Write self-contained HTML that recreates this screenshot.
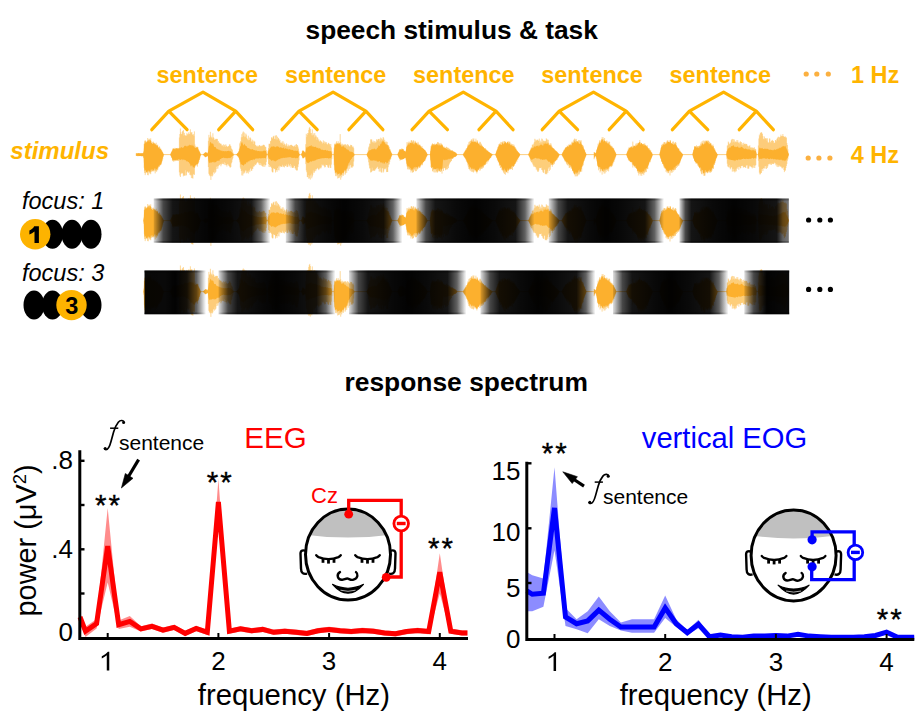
<!DOCTYPE html><html><head><meta charset="utf-8"><style>html,body{margin:0;padding:0;background:#fff;width:922px;height:728px;overflow:hidden}svg{display:block}text{font-family:"Liberation Sans",sans-serif}</style></head><body>
<svg width="922" height="728" viewBox="0 0 922 728">
<defs><g id="wave"><path d="M137 0H789" stroke="#FCB02E" stroke-width="1" opacity="0.6"/><path d="M136.20 -1.3V1.2M136.70 -1.4V1.3M137.20 -1.1V1.4M137.70 -1.3V1.6M138.20 -1.4V1.6M138.70 -1.6V1.2M139.20 -1.2V1.3M139.70 -1.2V1.5M140.20 -1.4V1.3M140.70 -1.4V1.5M141.20 -1.3V1.4M141.70 -1.2V1.6M142.20 -1.5V1.5M142.70 -1.3V1.7M143.20 -1.1V1.7M143.70 -3.2V3.4M144.20 -10.7V13.2M144.70 -13.5V18.4M145.20 -14.5V20.5M145.70 -13.5V18.7M146.20 -12.7V15.6M146.70 -12.7V16.4M147.20 -12.7V17.8M147.70 -16.6V20.4M148.20 -14.5V20.7M148.70 -13.8V16.8M149.20 -15.9V17.0M149.70 -14.4V18.7M150.20 -14.8V18.8M150.70 -16.3V19.6M151.20 -13.5V17.2M151.70 -11.7V15.1M152.20 -12.6V14.8M152.70 -11.3V16.5M153.20 -13.1V15.1M153.70 -11.8V14.8M154.20 -11.8V16.6M154.70 -11.0V15.2M155.20 -9.5V18.8M155.70 -11.1V13.6M156.20 -11.9V17.0M156.70 -9.0V16.9M157.20 -9.0V13.5M157.70 -10.0V15.6M158.20 -7.6V13.6M158.70 -6.6V11.9M159.20 -8.4V11.9M159.70 -7.7V10.9M160.20 -5.5V9.7M160.70 -6.2V10.0M161.20 -4.3V9.9M161.70 -4.4V7.7M162.20 -2.9V6.5M162.70 -2.1V4.7M163.20 -1.0V2.0M163.70 -0.2V0.4M170.40 -0.0V0.0M170.90 -1.5V1.3M171.40 -2.5V2.8M171.90 -3.5V3.5M172.40 -4.6V4.9M172.90 -6.0V6.2M173.40 -6.1V7.1M173.90 -6.3V5.2M174.40 -5.3V6.7M174.90 -6.8V6.1M175.40 -6.4V6.5M175.90 -5.8V5.4M176.40 -6.4V6.3M176.90 -6.5V5.7M177.40 -6.2V5.7M177.90 -6.7V6.3M178.40 -6.4V6.3M178.90 -5.5V5.3M179.40 -17.1V17.7M179.90 -20.6V20.9M180.40 -26.1V22.4M180.90 -22.3V19.2M181.40 -20.4V18.8M181.90 -20.5V17.9M182.40 -23.1V18.6M182.90 -23.5V18.9M183.40 -24.6V21.7M183.90 -18.9V20.4M184.40 -21.7V21.1M184.90 -19.5V21.0M185.40 -19.0V15.6M185.90 -18.8V20.9M186.40 -18.9V20.6M186.90 -21.7V17.7M187.40 -20.5V16.6M187.90 -19.4V17.1M188.40 -21.0V18.2M188.90 -22.5V17.7M189.40 -20.8V16.8M189.90 -20.4V20.2M190.40 -25.3V20.1M190.90 -22.2V20.9M191.40 -21.9V23.5M191.90 -22.5V20.3M192.40 -20.0V23.4M192.90 -19.8V24.1M193.40 -20.4V19.3M193.90 -18.6V20.1M194.40 -23.2V20.2M194.90 -10.1V12.7M195.40 -8.3V11.6M195.90 -6.7V10.5M196.40 -6.6V9.4M196.90 -7.8V11.1M197.40 -7.8V12.1M197.90 -7.6V8.6M198.40 -4.6V9.0M198.90 -4.7V7.2M199.40 -3.3V5.4M199.90 -2.2V3.7M200.40 -1.0V1.4M200.90 -0.0V0.0M202.90 -0.0V0.0M203.40 -0.5V0.6M203.90 -0.9V0.9M204.40 -1.2V1.4M204.90 -1.9V2.4M205.40 -2.2V2.7M205.90 -2.6V2.5M206.40 -2.2V2.1M206.90 -1.3V1.6M207.40 -1.2V1.1M207.90 -2.6V2.1M208.40 -13.8V12.4M208.90 -19.7V19.2M209.40 -16.9V21.0M209.90 -17.3V20.1M210.40 -22.8V21.7M210.90 -19.0V25.3M211.40 -17.0V21.5M211.90 -17.4V19.7M212.40 -16.0V21.8M212.90 -21.3V20.7M213.40 -17.3V17.9M213.90 -16.7V17.4M214.40 -14.7V19.0M214.90 -15.0V15.1M215.40 -15.1V18.0M215.90 -15.8V17.0M216.40 -15.7V12.1M216.90 -15.3V14.4M217.40 -15.7V11.6M217.90 -12.4V13.9M218.40 -13.6V11.6M218.90 -11.1V10.7M219.40 -12.0V10.5M219.90 -11.4V9.8M220.40 -10.6V9.3M220.90 -11.0V11.7M221.40 -10.1V10.0M221.90 -8.5V8.8M222.40 -9.5V9.4M222.90 -8.4V7.9M223.40 -10.3V9.6M223.90 -7.5V9.5M224.40 -9.2V7.6M224.90 -9.9V10.5M225.40 -7.7V8.5M225.90 -10.2V10.6M226.40 -8.8V10.3M226.90 -8.1V11.9M227.40 -7.8V9.8M227.90 -7.8V9.3M228.40 -8.6V10.1M228.90 -8.3V11.3M229.40 -10.0V11.6M229.90 -10.3V12.7M230.40 -8.9V12.9M230.90 -8.3V12.3M231.40 -6.1V8.7M231.90 -5.6V7.6M232.40 -4.4V4.9M232.90 -2.2V3.6M233.40 -1.1V1.3M236.30 -0.0V0.0M236.80 -0.5V0.7M237.30 -1.0V1.1M237.80 -1.8V2.0M238.30 -2.0V2.6M238.80 -3.5V3.1M239.30 -5.8V5.0M239.80 -11.2V7.7M240.30 -12.3V12.9M240.80 -13.6V14.3M241.30 -17.3V16.4M241.80 -20.4V20.8M242.30 -17.5V15.9M242.80 -22.0V20.9M243.30 -23.1V19.0M243.80 -18.5V16.7M244.30 -22.1V18.7M244.80 -17.4V17.6M245.30 -18.0V16.1M245.80 -21.1V15.5M246.30 -20.0V18.7M246.80 -16.7V16.2M247.30 -15.7V18.2M247.80 -14.5V16.9M248.30 -18.9V19.0M248.80 -14.3V16.2M249.30 -14.7V15.6M249.80 -17.0V17.5M250.30 -17.0V14.2M250.80 -16.0V13.3M251.30 -12.7V16.1M251.80 -13.4V16.1M252.30 -14.9V14.1M252.80 -12.9V14.3M253.30 -10.6V11.6M253.80 -14.0V12.3M254.30 -13.1V11.4M254.80 -12.9V9.6M255.30 -9.7V10.2M255.80 -9.4V10.5M256.30 -8.2V9.2M256.80 -8.8V8.4M257.30 -7.6V7.7M257.80 -8.9V7.3M258.30 -8.3V8.0M258.80 -8.0V9.0M259.30 -9.6V10.5M259.80 -9.2V8.3M260.30 -8.3V10.4M260.80 -8.4V8.5M261.30 -9.0V11.1M261.80 -8.2V9.9M262.30 -8.6V11.5M262.80 -9.4V11.9M263.30 -9.8V12.1M263.80 -9.8V10.2M264.30 -9.5V9.6M264.80 -8.3V12.3M265.30 -7.7V10.8M265.80 -7.5V10.4M266.30 -4.5V7.3M266.80 -0.0V0.0M267.50 -0.0V0.0M268.00 -3.8V4.7M268.50 -6.5V9.4M269.00 -10.8V12.3M269.50 -10.8V10.4M270.00 -10.3V12.5M270.50 -13.5V11.7M271.00 -14.0V12.2M271.50 -17.3V13.2M272.00 -16.7V16.9M272.50 -15.9V17.7M273.00 -17.9V17.7M273.50 -18.2V13.8M274.00 -18.9V13.8M274.50 -15.8V14.5M275.00 -15.2V14.2M275.50 -19.1V17.9M276.00 -15.3V15.6M276.50 -19.3V15.5M277.00 -14.5V17.3M277.50 -17.9V13.4M278.00 -15.1V15.5M278.50 -16.7V11.8M279.00 -15.7V15.8M279.50 -13.7V11.1M280.00 -14.7V12.7M280.50 -12.1V11.5M281.00 -11.1V11.7M281.50 -11.7V12.4M282.00 -13.0V11.6M282.50 -11.1V10.2M283.00 -13.4V12.5M283.50 -9.7V12.0M284.00 -11.9V11.1M284.50 -10.2V12.8M285.00 -10.6V10.3M285.50 -8.9V11.4M286.00 -9.4V11.6M286.50 -11.2V9.9M287.00 -8.4V12.5M287.50 -8.1V12.3M288.00 -10.2V10.8M288.50 -8.3V9.2M289.00 -9.5V12.1M289.50 -8.8V10.6M290.00 -7.9V11.5M290.50 -9.7V9.4M291.00 -9.4V13.1M291.50 -9.8V10.9M292.00 -9.1V12.6M292.50 -8.7V13.4M293.00 -8.7V13.2M293.50 -8.0V13.0M294.00 -7.9V10.7M294.50 -8.5V11.4M295.00 -9.6V13.7M295.50 -7.7V13.8M296.00 -10.1V15.4M296.50 -10.4V15.9M297.00 -8.0V11.9M297.50 -9.6V15.8M298.00 -8.0V12.5M298.50 -6.0V9.7M299.00 -3.2V5.8M299.50 -0.7V0.9M301.30 -0.0V0.0M301.80 -1.4V1.4M302.30 -3.4V2.2M302.80 -3.8V3.4M303.30 -3.6V3.7M303.80 -3.4V3.2M304.30 -2.9V3.2M304.80 -2.7V2.3M305.30 -1.7V2.1M305.80 -10.4V9.5M306.30 -20.8V15.8M306.80 -17.5V17.6M307.30 -19.6V22.5M307.80 -21.6V22.5M308.30 -21.3V20.3M308.80 -24.7V24.1M309.30 -26.7V23.7M309.80 -27.7V21.0M310.30 -25.6V25.0M310.80 -21.4V20.5M311.30 -21.5V19.0M311.80 -19.3V23.7M312.30 -25.2V21.9M312.80 -19.0V20.2M313.30 -19.8V15.8M313.80 -21.3V18.1M314.30 -17.1V18.0M314.80 -21.5V16.4M315.30 -17.9V14.7M315.80 -19.4V16.6M316.30 -18.1V14.8M316.80 -14.7V14.3M317.30 -17.3V13.2M317.80 -16.9V13.6M318.30 -14.2V14.4M318.80 -15.4V15.5M319.30 -13.4V14.3M319.80 -12.8V13.1M320.30 -14.4V13.0M320.80 -13.6V13.9M321.30 -13.1V12.8M321.80 -12.6V9.7M322.30 -10.8V10.8M322.80 -11.9V10.0M323.30 -14.2V11.0M323.80 -11.7V9.9M324.30 -13.2V11.6M324.80 -10.7V12.9M325.30 -12.8V12.4M325.80 -11.5V9.9M326.30 -12.5V10.5M326.80 -10.7V10.3M327.30 -10.0V10.6M327.80 -10.3V12.2M328.30 -11.8V13.2M328.80 -11.5V13.0M329.30 -10.4V10.0M329.80 -10.3V11.0M330.30 -8.7V13.2M330.80 -10.6V13.4M331.30 -7.2V10.0M331.80 -3.4V4.5M333.70 -0.0V0.0M334.20 -6.9V10.5M334.70 -10.8V15.6M335.20 -11.0V18.7M335.70 -9.4V21.3M336.20 -12.1V21.7M336.70 -13.4V17.1M337.20 -10.0V21.0M337.70 -11.2V23.9M338.20 -13.4V17.6M338.70 -11.2V23.5M339.20 -11.9V23.2M339.70 -11.4V21.9M340.20 -20.5V21.1M340.70 -12.3V25.1M341.20 -9.3V20.0M341.70 -10.2V22.8M342.20 -10.9V20.7M342.70 -8.0V17.9M343.20 -10.0V21.4M343.70 -9.8V19.9M344.20 -9.9V16.9M344.70 -10.1V15.8M345.20 -10.1V20.1M345.70 -10.3V18.7M346.20 -8.7V16.1M346.70 -9.7V18.2M347.20 -7.8V13.4M347.70 -10.6V14.5M348.20 -9.6V16.2M348.70 -9.0V11.7M349.20 -8.2V10.9M349.70 -8.1V14.3M350.20 -8.1V10.1M350.70 -9.8V10.7M351.20 -9.6V13.1M351.70 -9.3V12.3M352.20 -8.1V13.1M352.70 -7.3V11.7M353.20 -8.1V11.8M353.70 -6.4V6.9M354.20 -1.0V1.4M366.70 -0.0V0.0M367.20 -1.1V1.2M367.70 -2.3V2.1M368.20 -4.3V4.8M368.70 -7.2V7.7M369.20 -8.3V10.8M369.70 -11.0V13.8M370.20 -10.7V13.7M370.70 -15.2V17.9M371.20 -15.1V17.5M371.70 -15.2V17.0M372.20 -12.8V13.1M372.70 -12.1V16.3M373.20 -13.9V15.8M373.70 -12.2V15.9M374.20 -11.4V16.0M374.70 -13.5V16.2M375.20 -13.0V14.6M375.70 -11.6V14.9M376.20 -12.5V13.8M376.70 -15.4V13.3M377.20 -14.7V12.5M377.70 -13.7V12.0M378.20 -15.6V14.4M378.70 -15.4V14.2M379.20 -15.8V17.0M379.70 -13.1V13.3M380.20 -15.0V16.9M380.70 -17.0V13.0M381.20 -13.3V17.8M381.70 -16.2V17.9M382.20 -15.4V13.9M382.70 -14.4V13.5M383.20 -17.6V18.0M383.70 -16.4V16.9M384.20 -12.3V13.9M384.70 -14.8V14.6M385.20 -11.7V14.7M385.70 -12.8V13.8M386.20 -13.1V12.9M386.70 -10.0V17.5M387.20 -12.7V17.3M387.70 -9.3V17.4M388.20 -9.4V12.6M388.70 -8.7V10.1M389.20 -7.6V9.7M389.70 -5.4V7.4M390.20 -5.2V5.4M390.70 -3.2V4.4M391.20 -1.9V2.5M391.70 -1.1V1.0M392.20 -0.0V0.0M397.50 -0.0V0.0M398.00 -1.3V1.1M398.50 -2.6V2.2M399.00 -3.9V3.5M399.50 -5.3V4.2M400.00 -5.0V6.1M400.50 -4.7V4.7M401.00 -5.0V4.8M401.50 -6.0V5.4M402.00 -5.8V5.0M402.50 -5.8V4.7M403.00 -5.2V4.1M403.50 -5.5V4.2M404.00 -4.2V3.7M404.50 -3.3V3.8M405.00 -3.0V3.5M405.50 -2.7V3.1M406.00 -3.9V5.7M406.50 -7.7V9.1M407.00 -12.5V11.8M407.50 -10.1V14.7M408.00 -12.0V12.2M408.50 -11.8V14.1M409.00 -13.2V15.3M409.50 -12.0V14.6M410.00 -11.9V13.1M410.50 -11.0V15.6M411.00 -14.1V17.9M411.50 -14.4V16.1M412.00 -14.0V14.9M412.50 -12.4V18.1M413.00 -13.8V17.3M413.50 -14.3V17.6M414.00 -12.8V14.5M414.50 -11.8V15.1M415.00 -13.8V16.3M415.50 -13.0V16.7M416.00 -12.2V13.5M416.50 -11.7V16.5M417.00 -11.4V14.0M417.50 -10.5V14.9M418.00 -12.7V14.1M418.50 -11.0V12.3M419.00 -10.0V13.2M419.50 -8.8V13.2M420.00 -9.9V13.0M420.50 -9.0V11.9M421.00 -8.1V10.1M421.50 -7.8V10.7M422.00 -8.5V8.9M422.50 -6.6V10.6M423.00 -5.8V7.3M423.50 -5.2V7.6M424.00 -4.9V6.5M424.50 -4.5V6.2M425.00 -4.5V6.3M425.50 -3.8V4.9M426.00 -2.9V3.7M426.50 -2.1V2.0M427.00 -1.0V1.5M427.50 -0.2V0.2M430.00 -0.0V0.0M430.50 -3.7V5.7M431.00 -8.4V12.4M431.50 -9.0V13.6M432.00 -10.3V12.7M432.50 -11.3V16.5M433.00 -9.9V17.0M433.50 -10.5V15.1M434.00 -10.5V17.8M434.50 -11.0V14.8M435.00 -9.9V17.8M435.50 -9.1V15.0M436.00 -10.8V17.8M436.50 -10.4V16.6M437.00 -10.8V17.7M437.50 -12.5V17.9M438.00 -12.2V17.3M438.50 -12.1V15.9M439.00 -10.7V16.3M439.50 -11.1V16.8M440.00 -11.1V13.8M440.50 -9.9V17.3M441.00 -11.7V16.8M441.50 -10.4V16.6M442.00 -10.5V19.0M442.50 -8.5V14.2M443.00 -6.7V13.4M443.50 -7.9V16.4M444.00 -8.2V13.7M444.50 -6.6V13.2M445.00 -7.4V13.4M445.50 -6.1V15.6M446.00 -6.8V14.1M446.50 -7.8V14.9M447.00 -7.4V12.2M447.50 -6.6V14.7M448.00 -6.9V11.4M448.50 -6.3V13.5M449.00 -5.8V10.2M449.50 -5.8V9.0M450.00 -5.2V7.9M450.50 -4.8V7.5M451.00 -4.3V6.1M451.50 -3.9V6.5M452.00 -4.5V4.4M452.50 -4.1V3.6M453.00 -3.3V4.0M453.50 -3.2V2.9M454.00 -3.1V2.7M454.50 -2.5V2.4M455.00 -2.6V2.1M455.50 -1.9V2.3M456.00 -1.8V1.7M456.50 -0.9V1.2M457.00 -0.3V0.3M462.90 -0.0V0.0M463.40 -0.7V0.9M463.90 -1.9V1.8M464.40 -2.2V2.3M464.90 -3.5V3.2M465.40 -4.5V3.8M465.90 -5.3V4.6M466.40 -6.5V6.9M466.90 -6.3V7.0M467.40 -6.8V8.6M467.90 -10.1V10.8M468.40 -9.9V12.6M468.90 -12.4V14.4M469.40 -13.1V14.5M469.90 -10.6V15.7M470.40 -13.6V12.6M470.90 -14.0V16.6M471.40 -15.3V14.9M471.90 -14.8V17.3M472.40 -12.0V17.0M472.90 -16.1V14.1M473.40 -15.0V17.9M473.90 -16.2V17.2M474.40 -11.9V15.8M474.90 -13.1V14.7M475.40 -12.7V15.4M475.90 -15.9V16.2M476.40 -12.2V17.5M476.90 -14.0V18.8M477.40 -14.1V17.1M477.90 -11.5V15.7M478.40 -10.8V15.3M478.90 -11.9V14.0M479.40 -11.1V13.8M479.90 -12.9V16.4M480.40 -12.3V15.0M480.90 -9.9V12.7M481.40 -10.9V14.4M481.90 -9.5V12.2M482.40 -7.2V14.0M482.90 -7.2V13.0M483.40 -6.7V13.0M483.90 -6.7V10.1M484.40 -6.4V10.9M484.90 -5.7V8.6M485.40 -6.4V10.3M485.90 -5.3V9.0M486.40 -5.0V7.3M486.90 -4.3V9.1M487.40 -3.9V6.5M487.90 -3.9V7.5M488.40 -2.8V6.5M488.90 -2.5V5.5M489.40 -2.6V4.3M489.90 -1.9V3.9M490.40 -1.5V3.3M490.90 -1.3V3.0M491.40 -0.9V1.5M491.90 -0.5V1.1M492.40 -0.1V0.3M495.40 -0.0V0.0M495.90 -1.3V1.4M496.40 -2.9V2.6M496.90 -4.0V3.5M497.40 -5.3V5.8M497.90 -7.6V5.9M498.40 -8.3V8.0M498.90 -10.4V7.7M499.40 -10.1V11.2M499.90 -11.4V9.6M500.40 -9.3V13.3M500.90 -12.7V13.3M501.40 -12.3V11.9M501.90 -9.6V15.5M502.40 -12.5V15.1M502.90 -13.4V16.2M503.40 -10.8V17.5M503.90 -13.1V18.4M504.40 -13.5V19.4M504.90 -13.2V15.0M505.40 -11.3V20.1M505.90 -11.8V17.6M506.40 -11.5V15.1M506.90 -11.6V17.9M507.40 -12.2V15.2M507.90 -13.2V18.6M508.40 -11.6V14.5M508.90 -13.2V13.6M509.40 -12.4V15.1M509.90 -12.8V14.7M510.40 -9.6V14.0M510.90 -11.3V12.3M511.40 -10.6V14.4M511.90 -8.7V14.0M512.40 -10.1V15.4M512.90 -10.4V11.8M513.40 -8.4V12.2M513.90 -9.9V9.4M514.40 -8.8V11.3M514.90 -6.8V8.8M515.40 -7.4V9.2M515.90 -6.2V7.9M516.40 -5.2V6.8M516.90 -4.2V7.2M517.40 -3.4V4.9M517.90 -2.6V5.0M518.40 -2.5V3.3M518.90 -1.6V2.4M519.40 -1.2V1.5M519.90 -0.3V0.5M528.30 -0.0V0.0M528.80 -1.0V1.1M529.30 -2.1V1.9M529.80 -3.6V3.0M530.30 -4.6V5.0M530.80 -6.0V6.4M531.30 -7.3V7.5M531.80 -6.8V7.8M532.30 -9.8V8.0M532.80 -10.1V9.6M533.30 -9.0V10.7M533.80 -10.9V12.1M534.30 -12.4V11.0M534.80 -15.8V12.2M535.30 -13.0V12.6M535.80 -15.0V12.6M536.30 -13.9V15.1M536.80 -14.2V13.9M537.30 -14.7V16.0M537.80 -15.0V17.2M538.30 -13.9V17.0M538.80 -13.7V15.7M539.30 -16.0V13.6M539.80 -11.6V13.2M540.30 -14.0V13.5M540.80 -12.2V13.5M541.30 -12.2V12.8M541.80 -16.1V15.3M542.30 -15.4V15.3M542.80 -12.3V17.0M543.30 -13.8V17.9M543.80 -14.0V18.4M544.30 -13.2V15.0M544.80 -13.4V15.0M545.30 -13.8V19.6M545.80 -13.2V19.1M546.30 -16.3V19.1M546.80 -15.1V19.7M547.30 -15.0V16.6M547.80 -12.5V18.3M548.30 -14.8V14.0M548.80 -11.7V12.7M549.30 -10.0V16.4M549.80 -9.7V12.3M550.30 -10.0V15.1M550.80 -11.5V10.7M551.30 -9.9V10.2M551.80 -8.4V9.9M552.30 -7.5V12.2M552.80 -6.4V10.0M553.30 -5.9V10.3M553.80 -5.9V8.9M554.30 -5.1V9.5M554.80 -4.7V6.7M555.30 -3.9V6.9M555.80 -3.9V5.2M556.30 -3.6V5.6M556.80 -3.3V5.2M557.30 -2.4V4.8M557.80 -1.8V3.1M558.30 -1.4V2.9M558.80 -0.8V1.4M559.30 -0.4V0.6M561.70 -0.0V0.0M562.20 -0.9V1.1M562.70 -2.1V1.9M563.20 -2.6V3.0M563.70 -4.1V3.7M564.20 -5.0V4.5M564.70 -5.2V5.9M565.20 -6.6V7.1M565.70 -6.5V6.5M566.20 -7.6V8.0M566.70 -7.0V9.4M567.20 -9.1V10.3M567.70 -8.2V10.8M568.20 -7.8V9.4M568.70 -10.1V10.9M569.20 -9.2V13.3M569.70 -9.8V13.2M570.20 -10.8V12.0M570.70 -10.0V12.5M571.20 -9.7V14.1M571.70 -12.1V13.8M572.20 -13.1V13.8M572.70 -11.1V16.7M573.20 -12.3V15.5M573.70 -14.3V18.0M574.20 -15.3V19.5M574.70 -16.1V18.9M575.20 -13.4V21.8M575.70 -15.1V19.5M576.20 -15.7V21.7M576.70 -13.6V19.4M577.20 -13.5V21.8M577.70 -13.6V21.0M578.20 -13.0V15.8M578.70 -14.6V19.9M579.20 -11.4V19.8M579.70 -14.3V18.0M580.20 -14.0V17.2M580.70 -12.7V17.4M581.20 -14.3V14.4M581.70 -9.6V17.0M582.20 -9.6V11.9M582.70 -9.1V11.0M583.20 -8.8V10.6M583.70 -5.9V6.7M584.20 -5.3V6.2M584.70 -4.5V4.3M585.20 -2.5V3.1M585.70 -1.7V1.8M586.20 -0.5V0.6M594.10 -2.6V4.6M594.60 -1.8V3.1M595.10 -1.8V1.9M595.60 -1.3V1.3M596.10 -2.3V2.7M596.60 -4.7V4.6M597.10 -5.4V6.8M597.60 -8.1V11.1M598.10 -11.0V11.7M598.60 -9.5V15.7M599.10 -12.1V13.7M599.60 -14.1V14.1M600.10 -14.3V17.9M600.60 -13.0V16.6M601.10 -12.2V16.1M601.60 -15.5V14.6M602.10 -17.4V20.0M602.60 -14.4V16.5M603.10 -17.4V14.9M603.60 -15.5V17.2M604.10 -13.7V19.0M604.60 -16.6V14.0M605.10 -13.6V18.8M605.60 -13.3V15.9M606.10 -12.4V17.5M606.60 -13.9V13.7M607.10 -13.8V15.4M607.60 -11.4V16.2M608.10 -12.3V14.6M608.60 -11.0V16.8M609.10 -13.2V13.9M609.60 -12.6V11.7M610.10 -9.2V12.7M610.60 -10.0V11.7M611.10 -8.5V10.2M611.60 -8.8V12.5M612.10 -8.2V11.5M612.60 -6.9V10.7M613.10 -5.9V8.9M613.60 -6.7V6.8M614.10 -5.0V7.1M614.60 -3.5V5.2M615.10 -2.9V3.9M615.60 -1.9V2.2M616.10 -0.7V0.8M626.30 -0.0V0.0M626.80 -1.2V1.0M627.30 -2.5V2.7M627.80 -3.9V3.5M628.30 -5.7V4.9M628.80 -7.1V6.2M629.30 -6.2V5.4M629.80 -7.2V5.7M630.30 -7.8V7.6M630.80 -7.2V7.3M631.30 -8.1V7.3M631.80 -8.5V7.2M632.30 -6.9V9.7M632.80 -13.0V12.9M633.30 -8.6V10.6M633.80 -9.3V11.3M634.30 -8.5V9.9M634.80 -8.7V12.6M635.30 -8.0V13.0M635.80 -10.9V13.4M636.30 -9.7V13.2M636.80 -11.1V14.3M637.30 -11.7V15.9M637.80 -9.9V18.0M638.30 -10.5V16.4M638.80 -11.0V20.9M639.30 -12.0V19.3M639.80 -14.5V17.5M640.30 -12.3V16.1M640.80 -11.8V21.0M641.30 -10.1V19.1M641.80 -11.0V21.2M642.30 -9.6V19.1M642.80 -10.4V19.1M643.30 -10.8V19.0M643.80 -10.0V20.5M644.30 -10.8V17.8M644.80 -11.2V18.5M645.30 -9.1V15.0M645.80 -8.3V17.3M646.30 -8.7V17.5M646.80 -9.2V13.9M647.30 -9.1V14.4M647.80 -6.9V14.5M648.30 -6.1V10.1M648.80 -6.6V9.6M649.30 -6.1V7.9M649.80 -4.5V6.6M650.30 -4.8V7.6M650.80 -4.1V4.8M651.30 -2.4V3.7M651.80 -2.0V2.4M652.30 -0.8V1.3M659.50 -0.0V0.0M660.00 -2.3V1.8M660.50 -4.2V3.8M661.00 -6.9V4.6M661.50 -9.8V6.8M662.00 -8.8V7.2M662.50 -10.8V9.3M663.00 -9.0V9.2M663.50 -11.1V11.5M664.00 -12.6V12.8M664.50 -12.5V12.2M665.00 -11.9V13.9M665.50 -10.6V14.0M666.00 -12.4V17.2M666.50 -12.1V16.2M667.00 -13.9V18.0M667.50 -14.0V16.5M668.00 -14.2V18.7M668.50 -11.7V18.4M669.00 -12.5V15.1M669.50 -12.6V16.2M670.00 -14.5V20.9M670.50 -14.3V15.1M671.00 -11.0V18.0M671.50 -11.0V16.6M672.00 -10.7V18.3M672.50 -12.9V15.3M673.00 -11.0V17.3M673.50 -13.1V15.6M674.00 -9.8V15.0M674.50 -11.9V15.7M675.00 -11.2V14.6M675.50 -12.6V15.2M676.00 -11.8V11.4M676.50 -9.2V13.4M677.00 -8.0V10.7M677.50 -6.9V12.2M678.00 -6.2V11.4M678.50 -6.1V10.8M679.00 -6.0V10.8M679.50 -3.7V7.9M680.00 -4.0V8.1M680.50 -2.7V6.8M681.00 -2.1V4.6M681.50 -2.0V3.8M682.00 -1.1V2.8M682.50 -0.7V1.4M683.00 -0.0V0.0M692.50 -0.0V0.0M693.00 -2.2V1.9M693.50 -4.4V3.2M694.00 -5.4V4.2M694.50 -7.8V5.6M695.00 -8.4V6.3M695.50 -7.2V7.5M696.00 -8.3V9.0M696.50 -9.3V8.7M697.00 -7.1V8.7M697.50 -8.4V10.9M698.00 -8.5V9.2M698.50 -8.3V12.1M699.00 -8.7V12.0M699.50 -9.0V11.2M700.00 -8.4V13.6M700.50 -10.3V16.4M701.00 -12.1V17.8M701.50 -10.0V19.6M702.00 -13.2V19.0M702.50 -10.4V15.4M703.00 -13.9V19.8M703.50 -10.8V18.7M704.00 -14.1V21.4M704.50 -12.9V20.9M705.00 -13.3V21.0M705.50 -13.3V17.9M706.00 -14.4V16.3M706.50 -13.4V17.0M707.00 -13.4V17.0M707.50 -12.7V16.5M708.00 -14.4V16.2M708.50 -13.6V16.1M709.00 -13.2V14.8M709.50 -12.5V17.9M710.00 -11.0V17.5M710.50 -11.8V18.1M711.00 -11.4V13.5M711.50 -10.0V17.5M712.00 -9.6V16.1M712.50 -8.9V13.8M713.00 -10.1V14.3M713.50 -8.5V14.1M714.00 -6.1V10.3M714.50 -6.4V10.3M715.00 -5.1V8.5M715.50 -3.1V6.7M716.00 -2.5V4.6M716.50 -1.7V3.2M717.00 -0.9V2.0M717.50 -0.2V0.5M726.30 -0.0V0.0M726.80 -3.7V4.1M727.30 -9.0V9.1M727.80 -9.2V11.8M728.30 -13.0V12.1M728.80 -12.0V12.8M729.30 -10.2V10.5M729.80 -10.7V13.0M730.30 -11.7V14.7M730.80 -12.1V13.6M731.30 -14.3V12.5M731.80 -15.2V12.6M732.30 -15.7V17.0M732.80 -12.0V14.3M733.30 -15.5V16.9M733.80 -12.8V14.2M734.30 -15.1V16.5M734.80 -11.9V17.8M735.30 -13.3V16.9M735.80 -12.6V14.8M736.30 -12.3V16.7M736.80 -14.4V13.6M737.30 -12.5V14.1M737.80 -14.4V12.4M738.30 -11.5V12.1M738.80 -12.2V15.1M739.30 -12.1V12.4M739.80 -10.4V11.7M740.30 -13.4V13.7M740.80 -12.4V13.5M741.30 -12.6V11.3M741.80 -10.1V11.3M742.30 -9.3V11.5M742.80 -11.4V10.7M743.30 -9.4V13.1M743.80 -11.9V12.3M744.30 -10.6V12.4M744.80 -10.7V12.5M745.30 -10.1V12.9M745.80 -10.9V13.3M746.30 -10.6V11.0M746.80 -10.4V10.5M747.30 -8.8V10.7M747.80 -9.0V14.0M748.30 -7.2V14.0M748.80 -8.5V13.9M749.30 -8.6V10.9M749.80 -9.4V11.9M750.30 -7.4V11.7M750.80 -6.5V11.5M751.30 -6.3V12.4M751.80 -7.5V12.8M752.30 -6.3V13.7M752.80 -7.0V12.2M753.30 -6.2V10.5M753.80 -6.4V13.3M754.30 -7.4V10.9M754.80 -5.3V13.4M755.30 -5.7V10.9M755.80 -5.1V10.5M756.30 -2.1V3.9M757.90 -0.0V0.0M758.40 -9.1V6.1M758.90 -16.1V12.1M759.40 -20.0V18.0M759.90 -18.3V19.8M760.40 -21.9V19.6M760.90 -21.3V18.5M761.40 -22.5V18.3M761.90 -21.8V14.6M762.40 -20.7V14.3M762.90 -18.6V16.5M763.40 -15.4V13.5M763.90 -15.9V13.7M764.40 -18.1V13.9M764.90 -15.1V11.7M765.40 -16.2V11.4M765.90 -16.5V14.0M766.40 -16.0V14.3M766.90 -13.8V11.1M767.40 -16.3V13.3M767.90 -12.1V11.7M768.40 -12.2V9.4M768.90 -11.7V10.0M769.40 -16.1V9.0M769.90 -15.9V9.3M770.40 -12.7V10.0M770.90 -11.4V8.6M771.40 -13.7V10.4M771.90 -14.0V9.0M772.40 -14.7V9.4M772.90 -13.5V8.6M773.40 -13.7V9.5M773.90 -11.4V9.3M774.40 -11.9V7.8M774.90 -11.8V8.4M775.40 -14.5V8.8M775.90 -14.4V10.7M776.40 -13.3V9.6M776.90 -15.7V12.0M777.40 -16.3V10.1M777.90 -17.3V12.5M778.40 -17.9V10.8M778.90 -14.2V12.3M779.40 -17.2V10.8M779.90 -17.3V11.2M780.40 -18.0V12.2M780.90 -20.0V11.4M781.40 -18.6V12.3M781.90 -18.0V13.6M782.40 -18.7V13.8M782.90 -20.6V12.6M783.40 -18.6V12.7M783.90 -17.8V15.4M784.40 -17.6V17.5M784.90 -18.0V16.0M785.40 -18.0V15.9M785.90 -16.6V13.4M786.40 -17.2V11.3M786.90 -11.6V9.3M787.40 -9.6V6.1M787.90 -5.3V4.7M788.40 -1.5V1.3" stroke="#FCB02E" stroke-width="0.6" opacity="0.8"/><path d="M136.20 -1.3L136.70 -1.1L137.20 -1.1L137.70 -1.1L138.20 -1.3L138.70 -1.3L139.20 -1.2L139.70 -1.3L140.20 -1.1L140.70 -1.2L141.20 -1.3L141.70 -1.2L142.20 -1.4L142.70 -1.1L143.20 -1.3L143.70 -2.8L144.20 -10.4L144.70 -11.1L145.20 -13.7L145.70 -11.3L146.20 -11.6L146.70 -12.9L147.20 -13.7L147.70 -12.9L148.20 -15.5L148.70 -13.2L149.20 -12.4L149.70 -15.4L150.20 -14.1L150.70 -14.4L151.20 -11.6L151.70 -11.6L152.20 -10.7L152.70 -10.5L153.20 -10.9L153.70 -12.3L154.20 -9.8L154.70 -11.5L155.20 -10.4L155.70 -10.1L156.20 -9.1L156.70 -9.3L157.20 -9.4L157.70 -8.9L158.20 -7.4L158.70 -6.7L159.20 -7.4L159.70 -5.7L160.20 -5.8L160.70 -5.3L161.20 -5.0L161.70 -3.4L162.20 -3.2L162.70 -2.1L163.20 -1.2L163.70 -0.2L163.70 0.4L163.20 2.2L162.70 3.4L162.20 5.3L161.70 7.6L161.20 9.2L160.70 9.9L160.20 10.8L159.70 9.8L159.20 12.5L158.70 12.3L158.20 10.9L157.70 13.7L157.20 15.2L156.70 15.2L156.20 14.1L155.70 16.6L155.20 13.6L154.70 13.8L154.20 13.8L153.70 17.4L153.20 15.0L152.70 17.3L152.20 14.5L151.70 14.7L151.20 16.8L150.70 17.6L150.20 14.7L149.70 17.5L149.20 16.6L148.70 16.8L148.20 15.3L147.70 16.3L147.20 18.1L146.70 18.0L146.20 17.4L145.70 16.0L145.20 15.2L144.70 16.8L144.20 13.7L143.70 3.4L143.20 1.5L142.70 1.4L142.20 1.3L141.70 1.6L141.20 1.5L140.70 1.4L140.20 1.3L139.70 1.3L139.20 1.4L138.70 1.2L138.20 1.3L137.70 1.2L137.20 1.1L136.70 1.3L136.20 1.1ZM170.40 -0.0L170.90 -1.2L171.40 -2.5L171.90 -3.2L172.40 -4.2L172.90 -5.9L173.40 -5.8L173.90 -5.7L174.40 -5.3L174.90 -5.5L175.40 -5.2L175.90 -6.2L176.40 -6.4L176.90 -5.8L177.40 -5.7L177.90 -6.4L178.40 -6.3L178.90 -5.1L179.40 -6.9L179.90 -6.8L180.40 -6.2L180.90 -7.7L181.40 -7.1L181.90 -7.7L182.40 -6.5L182.90 -6.8L183.40 -7.0L183.90 -7.5L184.40 -8.8L184.90 -8.5L185.40 -8.9L185.90 -8.9L186.40 -7.8L186.90 -8.9L187.40 -8.9L187.90 -7.9L188.40 -9.5L188.90 -8.7L189.40 -9.6L189.90 -10.1L190.40 -9.2L190.90 -9.7L191.40 -9.8L191.90 -8.3L192.40 -8.8L192.90 -10.2L193.40 -8.5L193.90 -8.1L194.40 -7.8L194.90 -6.6L195.40 -6.8L195.90 -6.6L196.40 -7.0L196.90 -7.8L197.40 -7.1L197.90 -6.3L198.40 -5.5L198.90 -3.6L199.40 -3.2L199.90 -2.1L200.40 -0.9L200.90 -0.0L200.90 0.0L200.40 1.4L199.90 3.1L199.40 4.8L198.90 6.0L198.40 7.7L197.90 9.2L197.40 9.4L196.90 10.4L196.40 9.5L195.90 10.1L195.40 10.6L194.90 11.5L194.40 13.3L193.90 13.5L193.40 12.1L192.90 12.9L192.40 11.1L191.90 10.5L191.40 11.5L190.90 11.9L190.40 10.9L189.90 8.6L189.40 9.2L188.90 7.5L188.40 7.6L187.90 7.0L187.40 6.6L186.90 7.2L186.40 6.5L185.90 6.0L185.40 5.4L184.90 5.7L184.40 5.1L183.90 4.8L183.40 5.0L182.90 5.9L182.40 5.0L181.90 4.5L181.40 4.9L180.90 5.4L180.40 5.5L179.90 4.5L179.40 5.5L178.90 4.6L178.40 4.6L177.90 4.8L177.40 5.7L176.90 5.5L176.40 5.2L175.90 5.4L175.40 5.5L174.90 5.5L174.40 5.5L173.90 5.2L173.40 5.7L172.90 6.4L172.40 5.1L171.90 3.5L171.40 2.1L170.90 1.3L170.40 0.0ZM202.90 -0.0L203.40 -0.4L203.90 -0.9L204.40 -1.3L204.90 -1.6L205.40 -2.2L205.90 -2.1L206.40 -1.9L206.90 -1.5L207.40 -1.0L207.90 -1.7L208.40 -4.9L208.90 -8.3L209.40 -8.8L209.90 -11.9L210.40 -12.9L210.90 -12.2L211.40 -11.5L211.90 -10.6L212.40 -11.4L212.90 -10.9L213.40 -10.5L213.90 -8.3L214.40 -7.7L214.90 -7.6L215.40 -7.7L215.90 -7.2L216.40 -6.2L216.90 -5.3L217.40 -5.4L217.90 -5.8L218.40 -5.1L218.90 -4.5L219.40 -5.1L219.90 -4.1L220.40 -4.0L220.90 -4.3L221.40 -3.7L221.90 -4.1L222.40 -3.8L222.90 -3.2L223.40 -3.5L223.90 -3.6L224.40 -3.2L224.90 -3.7L225.40 -3.4L225.90 -3.5L226.40 -3.0L226.90 -3.6L227.40 -3.6L227.90 -3.5L228.40 -3.6L228.90 -4.0L229.40 -3.4L229.90 -3.4L230.40 -3.6L230.90 -3.0L231.40 -2.8L231.90 -2.1L232.40 -1.7L232.90 -0.9L233.40 -0.4L233.40 0.4L232.90 1.1L232.40 1.4L231.90 2.0L231.40 2.5L230.90 2.8L230.40 3.4L229.90 3.2L229.40 3.4L228.90 3.7L228.40 3.1L227.90 3.6L227.40 3.6L226.90 3.3L226.40 3.6L225.90 3.6L225.40 3.5L224.90 3.1L224.40 3.6L223.90 3.2L223.40 2.8L222.90 3.3L222.40 3.4L221.90 3.5L221.40 4.0L220.90 4.4L220.40 4.5L219.90 4.6L219.40 6.1L218.90 6.3L218.40 5.8L217.90 5.9L217.40 6.3L216.90 6.1L216.40 7.1L215.90 7.3L215.40 7.9L214.90 6.9L214.40 8.4L213.90 6.8L213.40 7.9L212.90 7.4L212.40 7.2L211.90 8.7L211.40 7.7L210.90 7.2L210.40 8.7L209.90 7.6L209.40 8.6L208.90 8.1L208.40 5.9L207.90 1.5L207.40 1.1L206.90 1.7L206.40 1.8L205.90 2.5L205.40 2.4L204.90 1.8L204.40 1.3L203.90 0.9L203.40 0.5L202.90 0.0ZM236.30 -0.0L236.80 -0.5L237.30 -1.1L237.80 -1.7L238.30 -2.2L238.80 -3.0L239.30 -4.3L239.80 -6.9L240.30 -8.3L240.80 -8.9L241.30 -11.9L241.80 -12.3L242.30 -12.4L242.80 -10.4L243.30 -9.8L243.80 -8.8L244.30 -10.8L244.80 -10.4L245.30 -8.8L245.80 -9.2L246.30 -8.4L246.80 -8.4L247.30 -6.9L247.80 -6.7L248.30 -6.3L248.80 -6.6L249.30 -6.1L249.80 -5.9L250.30 -5.7L250.80 -5.1L251.30 -5.4L251.80 -5.2L252.30 -5.7L252.80 -5.3L253.30 -4.3L253.80 -5.2L254.30 -4.3L254.80 -4.5L255.30 -3.9L255.80 -4.3L256.30 -4.2L256.80 -4.2L257.30 -3.7L257.80 -3.4L258.30 -3.5L258.80 -3.5L259.30 -3.5L259.80 -3.2L260.30 -3.6L260.80 -3.2L261.30 -3.3L261.80 -3.3L262.30 -3.3L262.80 -3.4L263.30 -3.6L263.80 -4.0L264.30 -3.9L264.80 -4.0L265.30 -3.7L265.80 -3.9L266.30 -2.4L266.80 -0.0L266.80 0.0L266.30 2.0L265.80 4.0L265.30 3.6L264.80 3.4L264.30 3.4L263.80 3.8L263.30 3.2L262.80 3.3L262.30 3.7L261.80 3.5L261.30 3.8L260.80 3.7L260.30 4.0L259.80 4.0L259.30 3.4L258.80 3.6L258.30 4.1L257.80 3.8L257.30 3.8L256.80 4.0L256.30 3.8L255.80 4.0L255.30 4.1L254.80 4.8L254.30 5.1L253.80 4.8L253.30 4.7L252.80 5.9L252.30 4.9L251.80 5.3L251.30 5.5L250.80 5.6L250.30 5.9L249.80 5.7L249.30 6.8L248.80 6.8L248.30 6.4L247.80 8.4L247.30 7.0L246.80 7.3L246.30 8.1L245.80 9.4L245.30 9.2L244.80 10.6L244.30 8.7L243.80 10.8L243.30 11.1L242.80 10.2L242.30 10.5L241.80 10.2L241.30 9.4L240.80 10.1L240.30 7.5L239.80 5.7L239.30 4.4L238.80 2.9L238.30 1.8L237.80 1.5L237.30 1.1L236.80 0.5L236.30 0.0ZM267.50 -0.0L268.00 -2.0L268.50 -4.1L269.00 -5.2L269.50 -5.2L270.00 -6.3L270.50 -7.2L271.00 -7.3L271.50 -8.6L272.00 -7.3L272.50 -8.8L273.00 -7.1L273.50 -8.8L274.00 -8.0L274.50 -8.0L275.00 -7.3L275.50 -7.3L276.00 -8.1L276.50 -8.0L277.00 -8.0L277.50 -8.7L278.00 -7.5L278.50 -8.2L279.00 -7.7L279.50 -6.6L280.00 -7.4L280.50 -7.6L281.00 -6.6L281.50 -7.4L282.00 -6.5L282.50 -6.4L283.00 -6.8L283.50 -6.9L284.00 -7.4L284.50 -5.7L285.00 -5.6L285.50 -6.9L286.00 -6.0L286.50 -5.6L287.00 -6.2L287.50 -5.9L288.00 -5.1L288.50 -5.1L289.00 -5.4L289.50 -5.4L290.00 -5.5L290.50 -4.5L291.00 -5.0L291.50 -4.4L292.00 -4.8L292.50 -4.7L293.00 -4.5L293.50 -3.9L294.00 -3.9L294.50 -3.7L295.00 -4.3L295.50 -3.9L296.00 -3.5L296.50 -3.5L297.00 -4.1L297.50 -3.9L298.00 -3.9L298.50 -2.2L299.00 -1.3L299.50 -0.2L299.50 0.2L299.00 1.3L298.50 2.4L298.00 3.4L297.50 3.4L297.00 3.8L296.50 3.2L296.00 3.7L295.50 3.6L295.00 3.5L294.50 2.9L294.00 3.5L293.50 3.4L293.00 2.9L292.50 3.3L292.00 3.3L291.50 3.2L291.00 2.7L290.50 2.6L290.00 2.5L289.50 2.7L289.00 2.6L288.50 2.9L288.00 2.5L287.50 2.8L287.00 3.1L286.50 2.8L286.00 3.1L285.50 2.8L285.00 3.3L284.50 3.2L284.00 3.4L283.50 3.1L283.00 3.1L282.50 3.5L282.00 3.9L281.50 3.5L281.00 3.8L280.50 3.7L280.00 4.8L279.50 4.2L279.00 5.0L278.50 4.7L278.00 4.8L277.50 5.6L277.00 5.5L276.50 6.5L276.00 5.9L275.50 6.8L275.00 7.0L274.50 6.0L274.00 6.8L273.50 5.7L273.00 5.7L272.50 5.4L272.00 6.4L271.50 6.3L271.00 5.2L270.50 5.4L270.00 4.3L269.50 4.5L269.00 3.9L268.50 3.2L268.00 1.7L267.50 0.0ZM301.30 -0.0L301.80 -1.4L302.30 -3.0L302.80 -4.4L303.30 -4.0L303.80 -3.3L304.30 -2.7L304.80 -2.1L305.30 -1.8L305.80 -4.0L306.30 -7.1L306.80 -7.7L307.30 -6.9L307.80 -8.4L308.30 -7.6L308.80 -8.1L309.30 -8.4L309.80 -8.6L310.30 -8.4L310.80 -9.0L311.30 -9.9L311.80 -7.8L312.30 -8.9L312.80 -7.5L313.30 -7.9L313.80 -8.2L314.30 -7.6L314.80 -7.7L315.30 -7.8L315.80 -7.9L316.30 -6.7L316.80 -7.4L317.30 -6.6L317.80 -6.9L318.30 -6.9L318.80 -5.5L319.30 -6.7L319.80 -6.0L320.30 -6.2L320.80 -5.2L321.30 -4.9L321.80 -4.9L322.30 -5.0L322.80 -4.6L323.30 -4.5L323.80 -4.3L324.30 -4.7L324.80 -4.4L325.30 -4.5L325.80 -4.8L326.30 -4.2L326.80 -3.8L327.30 -4.0L327.80 -4.3L328.30 -3.6L328.80 -3.6L329.30 -3.4L329.80 -3.5L330.30 -3.6L330.80 -3.4L331.30 -2.9L331.80 -1.1L331.80 1.3L331.30 3.0L330.80 4.0L330.30 3.3L329.80 3.3L329.30 4.0L328.80 3.9L328.30 3.9L327.80 3.4L327.30 3.5L326.80 3.7L326.30 3.3L325.80 3.4L325.30 3.3L324.80 3.6L324.30 3.5L323.80 3.7L323.30 3.7L322.80 3.6L322.30 3.7L321.80 3.5L321.30 4.2L320.80 4.0L320.30 4.0L319.80 4.3L319.30 4.2L318.80 4.4L318.30 4.3L317.80 5.0L317.30 4.6L316.80 5.0L316.30 5.1L315.80 5.3L315.30 5.8L314.80 5.9L314.30 6.1L313.80 5.9L313.30 6.7L312.80 6.0L312.30 6.6L311.80 6.7L311.30 7.5L310.80 6.7L310.30 6.9L309.80 7.4L309.30 7.9L308.80 7.8L308.30 8.6L307.80 8.3L307.30 7.9L306.80 8.0L306.30 7.0L305.80 4.8L305.30 1.9L304.80 2.2L304.30 2.4L303.80 3.2L303.30 3.6L302.80 3.9L302.30 2.1L301.80 1.1L301.30 0.0ZM333.70 -0.0L334.20 -5.8L334.70 -9.9L335.20 -10.2L335.70 -10.2L336.20 -10.1L336.70 -11.0L337.20 -11.3L337.70 -10.9L338.20 -11.4L338.70 -10.4L339.20 -10.0L339.70 -11.6L340.20 -10.3L340.70 -9.6L341.20 -8.5L341.70 -7.7L342.20 -7.5L342.70 -9.1L343.20 -8.8L343.70 -8.1L344.20 -7.8L344.70 -6.6L345.20 -7.1L345.70 -6.6L346.20 -5.8L346.70 -5.1L347.20 -5.8L347.70 -4.4L348.20 -5.1L348.70 -4.4L349.20 -3.4L349.70 -3.1L350.20 -3.4L350.70 -2.7L351.20 -3.0L351.70 -2.6L352.20 -2.5L352.70 -2.3L353.20 -1.8L353.70 -1.3L354.20 -0.2L354.20 0.2L353.70 1.4L353.20 2.4L352.70 2.5L352.20 3.0L351.70 4.5L351.20 4.2L350.70 5.7L350.20 5.5L349.70 7.3L349.20 8.2L348.70 8.4L348.20 10.2L347.70 11.2L347.20 12.9L346.70 14.1L346.20 14.8L345.70 15.3L345.20 16.9L344.70 14.8L344.20 16.9L343.70 17.9L343.20 18.4L342.70 18.8L342.20 17.7L341.70 20.1L341.20 19.9L340.70 21.3L340.20 18.8L339.70 18.6L339.20 19.1L338.70 19.1L338.20 19.6L337.70 18.7L337.20 20.6L336.70 18.8L336.20 17.5L335.70 17.8L335.20 18.7L334.70 15.3L334.20 9.5L333.70 0.0ZM366.70 -0.0L367.20 -1.1L367.70 -1.8L368.20 -2.9L368.70 -3.5L369.20 -3.8L369.70 -4.7L370.20 -4.7L370.70 -4.4L371.20 -5.1L371.70 -5.3L372.20 -5.2L372.70 -5.8L373.20 -5.2L373.70 -5.8L374.20 -5.8L374.70 -6.0L375.20 -5.1L375.70 -5.4L376.20 -5.2L376.70 -5.6L377.20 -7.0L377.70 -6.5L378.20 -8.1L378.70 -9.5L379.20 -8.5L379.70 -8.6L380.20 -10.1L380.70 -11.1L381.20 -10.7L381.70 -12.4L382.20 -14.0L382.70 -12.3L383.20 -14.0L383.70 -12.9L384.20 -12.9L384.70 -12.0L385.20 -10.6L385.70 -10.2L386.20 -11.2L386.70 -9.5L387.20 -8.9L387.70 -10.2L388.20 -9.1L388.70 -6.9L389.20 -5.8L389.70 -4.9L390.20 -4.0L390.70 -3.0L391.20 -2.1L391.70 -1.0L392.20 -0.0L392.20 0.0L391.70 1.0L391.20 1.9L390.70 3.6L390.20 4.1L389.70 4.6L389.20 6.3L388.70 5.8L388.20 7.4L387.70 8.5L387.20 8.1L386.70 9.1L386.20 7.6L385.70 7.5L385.20 7.5L384.70 8.8L384.20 9.1L383.70 9.2L383.20 7.3L382.70 7.9L382.20 9.1L381.70 7.7L381.20 7.9L380.70 7.5L380.20 8.4L379.70 6.5L379.20 6.4L378.70 7.6L378.20 6.5L377.70 7.7L377.20 6.4L376.70 6.8L376.20 5.7L375.70 6.4L375.20 5.8L374.70 6.2L374.20 5.7L373.70 6.0L373.20 5.6L372.70 5.6L372.20 6.3L371.70 6.4L371.20 5.4L370.70 6.2L370.20 5.6L369.70 4.6L369.20 4.5L368.70 3.5L368.20 3.2L367.70 2.3L367.20 1.1L366.70 0.0ZM397.50 -0.0L398.00 -1.2L398.50 -1.9L399.00 -2.9L399.50 -4.3L400.00 -5.4L400.50 -5.2L401.00 -5.1L401.50 -4.6L402.00 -5.2L402.50 -5.3L403.00 -5.3L403.50 -4.1L404.00 -3.9L404.50 -3.5L405.00 -3.4L405.50 -2.6L406.00 -4.7L406.50 -7.1L407.00 -9.1L407.50 -8.9L408.00 -9.1L408.50 -11.1L409.00 -9.5L409.50 -10.4L410.00 -11.5L410.50 -12.1L411.00 -11.3L411.50 -11.5L412.00 -11.0L412.50 -12.5L413.00 -10.2L413.50 -10.6L414.00 -11.3L414.50 -9.7L415.00 -12.1L415.50 -11.8L416.00 -11.1L416.50 -10.8L417.00 -11.6L417.50 -9.3L418.00 -9.5L418.50 -9.0L419.00 -9.3L419.50 -10.1L420.00 -8.2L420.50 -8.6L421.00 -7.4L421.50 -6.5L422.00 -7.1L422.50 -6.2L423.00 -6.6L423.50 -5.5L424.00 -5.7L424.50 -4.5L425.00 -4.3L425.50 -3.4L426.00 -2.7L426.50 -1.8L427.00 -0.9L427.50 -0.2L427.50 0.2L427.00 1.2L426.50 2.2L426.00 2.9L425.50 4.1L425.00 5.2L424.50 6.3L424.00 7.0L423.50 7.6L423.00 7.7L422.50 8.9L422.00 8.9L421.50 9.2L421.00 10.2L420.50 10.6L420.00 11.9L419.50 12.2L419.00 11.7L418.50 11.5L418.00 12.7L417.50 13.3L417.00 12.4L416.50 12.4L416.00 12.6L415.50 11.9L415.00 14.1L414.50 12.5L414.00 12.4L413.50 13.8L413.00 14.2L412.50 15.8L412.00 13.8L411.50 16.2L411.00 14.0L410.50 12.8L410.00 14.9L409.50 12.1L409.00 11.8L408.50 11.5L408.00 12.8L407.50 10.9L407.00 10.7L406.50 7.3L406.00 4.6L405.50 2.8L405.00 3.3L404.50 3.4L404.00 3.9L403.50 4.6L403.00 4.5L402.50 5.0L402.00 4.2L401.50 4.3L401.00 5.1L400.50 5.0L400.00 4.7L399.50 3.9L399.00 3.1L398.50 1.9L398.00 0.9L397.50 0.0ZM430.00 -0.0L430.50 -3.4L431.00 -7.0L431.50 -8.3L432.00 -10.2L432.50 -10.3L433.00 -8.2L433.50 -10.4L434.00 -9.5L434.50 -9.2L435.00 -10.0L435.50 -9.4L436.00 -10.8L436.50 -10.9L437.00 -9.0L437.50 -9.9L438.00 -10.7L438.50 -9.0L439.00 -9.0L439.50 -9.4L440.00 -9.5L440.50 -8.4L441.00 -10.0L441.50 -9.0L442.00 -9.7L442.50 -9.5L443.00 -7.9L443.50 -6.7L444.00 -7.7L444.50 -6.3L445.00 -6.6L445.50 -6.5L446.00 -5.7L446.50 -5.5L447.00 -5.7L447.50 -4.9L448.00 -4.7L448.50 -4.3L449.00 -5.0L449.50 -4.4L450.00 -3.9L450.50 -3.8L451.00 -4.2L451.50 -3.5L452.00 -3.8L452.50 -3.6L453.00 -2.9L453.50 -2.9L454.00 -2.9L454.50 -2.5L455.00 -2.2L455.50 -1.8L456.00 -1.6L456.50 -0.9L457.00 -0.3L457.00 0.3L456.50 1.0L456.00 1.5L455.50 2.0L455.00 2.2L454.50 2.2L454.00 2.7L453.50 2.6L453.00 3.5L452.50 3.9L452.00 4.1L451.50 3.7L451.00 3.9L450.50 3.9L450.00 4.6L449.50 4.2L449.00 4.2L448.50 4.2L448.00 5.1L447.50 4.7L447.00 5.4L446.50 5.5L446.00 4.5L445.50 5.8L445.00 5.1L444.50 5.9L444.00 5.2L443.50 4.9L443.00 6.1L442.50 12.5L442.00 14.6L441.50 15.5L441.00 13.8L440.50 14.2L440.00 16.0L439.50 16.8L439.00 13.7L438.50 14.1L438.00 16.7L437.50 13.4L437.00 14.0L436.50 14.0L436.00 14.4L435.50 14.5L435.00 14.3L434.50 14.4L434.00 14.0L433.50 14.8L433.00 12.1L432.50 12.6L432.00 12.8L431.50 13.6L431.00 10.1L430.50 4.9L430.00 0.0ZM462.90 -0.0L463.40 -0.7L463.90 -1.7L464.40 -2.0L464.90 -3.0L465.40 -4.2L465.90 -4.2L466.40 -4.9L466.90 -6.2L467.40 -7.7L467.90 -8.8L468.40 -8.9L468.90 -9.6L469.40 -9.5L469.90 -10.3L470.40 -12.0L470.90 -11.2L471.40 -13.5L471.90 -13.0L472.40 -12.7L472.90 -13.7L473.40 -12.1L473.90 -13.0L474.40 -12.5L474.90 -13.4L475.40 -12.8L475.90 -12.1L476.40 -12.1L476.90 -11.6L477.40 -13.3L477.90 -11.6L478.40 -10.7L478.90 -10.6L479.40 -9.5L479.90 -9.1L480.40 -8.7L480.90 -9.3L481.40 -9.0L481.90 -7.8L482.40 -8.5L482.90 -8.0L483.40 -7.5L483.90 -7.0L484.40 -5.9L484.90 -5.8L485.40 -5.8L485.90 -4.4L486.40 -4.7L486.90 -3.6L487.40 -3.8L487.90 -3.4L488.40 -2.8L488.90 -2.5L489.40 -2.0L489.90 -1.6L490.40 -1.6L490.90 -1.2L491.40 -0.8L491.90 -0.5L492.40 -0.1L492.40 0.3L491.90 1.0L491.40 1.7L490.90 2.4L490.40 3.3L489.90 3.3L489.40 4.4L488.90 5.5L488.40 5.5L487.90 6.0L487.40 5.8L486.90 6.4L486.40 7.1L485.90 7.8L485.40 9.8L484.90 9.6L484.40 10.7L483.90 9.9L483.40 11.5L482.90 12.6L482.40 11.2L481.90 11.1L481.40 14.0L480.90 11.4L480.40 13.4L479.90 14.6L479.40 12.5L478.90 14.5L478.40 15.8L477.90 14.3L477.40 17.2L476.90 16.5L476.40 17.0L475.90 17.1L475.40 15.2L474.90 15.9L474.40 14.0L473.90 14.1L473.40 15.0L472.90 13.0L472.40 14.6L471.90 14.1L471.40 14.7L470.90 12.3L470.40 13.0L469.90 14.4L469.40 12.0L468.90 10.7L468.40 9.5L467.90 9.0L467.40 7.7L466.90 6.9L466.40 5.2L465.90 5.2L465.40 3.7L464.90 3.2L464.40 2.4L463.90 1.7L463.40 0.7L462.90 0.0ZM495.40 -0.0L495.90 -1.3L496.40 -2.8L496.90 -4.6L497.40 -5.2L497.90 -6.9L498.40 -7.5L498.90 -9.0L499.40 -9.6L499.90 -10.8L500.40 -9.6L500.90 -10.8L501.40 -9.6L501.90 -9.7L502.40 -11.7L502.90 -12.0L503.40 -10.6L503.90 -10.2L504.40 -12.1L504.90 -11.8L505.40 -12.4L505.90 -13.1L506.40 -10.9L506.90 -11.2L507.40 -12.7L507.90 -12.7L508.40 -11.2L508.90 -10.1L509.40 -10.6L509.90 -11.5L510.40 -9.5L510.90 -9.2L511.40 -9.5L511.90 -9.2L512.40 -8.3L512.90 -8.5L513.40 -8.5L513.90 -7.9L514.40 -7.4L514.90 -7.0L515.40 -5.6L515.90 -5.5L516.40 -4.1L516.90 -4.0L517.40 -3.3L517.90 -2.8L518.40 -2.0L518.90 -1.7L519.40 -1.1L519.90 -0.4L519.90 0.6L519.40 1.5L518.90 2.3L518.40 2.9L517.90 4.0L517.40 4.5L516.90 5.5L516.40 6.2L515.90 6.9L515.40 8.5L514.90 9.5L514.40 9.8L513.90 10.9L513.40 12.2L512.90 11.7L512.40 11.1L511.90 11.0L511.40 12.4L510.90 12.8L510.40 14.9L509.90 14.3L509.40 13.1L508.90 15.9L508.40 16.5L507.90 13.5L507.40 15.9L506.90 16.9L506.40 17.7L505.90 16.8L505.40 15.1L504.90 17.0L504.40 13.7L503.90 14.7L503.40 15.8L502.90 15.9L502.40 14.6L501.90 13.0L501.40 12.4L500.90 10.8L500.40 10.1L499.90 10.6L499.40 9.6L498.90 7.3L498.40 7.1L497.90 6.0L497.40 4.3L496.90 3.6L496.40 2.3L495.90 1.2L495.40 0.0ZM528.30 -0.0L528.80 -1.1L529.30 -1.9L529.80 -3.0L530.30 -4.2L530.80 -5.2L531.30 -5.7L531.80 -6.8L532.30 -6.2L532.80 -7.1L533.30 -6.3L533.80 -7.5L534.30 -8.4L534.80 -8.1L535.30 -7.4L535.80 -8.8L536.30 -8.4L536.80 -8.9L537.30 -9.1L537.80 -8.5L538.30 -7.9L538.80 -9.4L539.30 -9.5L539.80 -8.0L540.30 -10.2L540.80 -9.8L541.30 -10.0L541.80 -9.9L542.30 -9.3L542.80 -8.9L543.30 -9.1L543.80 -11.6L544.30 -10.0L544.80 -11.6L545.30 -10.3L545.80 -12.3L546.30 -10.9L546.80 -10.7L547.30 -11.6L547.80 -10.6L548.30 -11.6L548.80 -9.2L549.30 -9.0L549.80 -9.9L550.30 -9.6L550.80 -8.2L551.30 -8.4L551.80 -7.1L552.30 -6.9L552.80 -6.7L553.30 -6.1L553.80 -6.2L554.30 -5.7L554.80 -4.4L555.30 -4.1L555.80 -3.9L556.30 -3.4L556.80 -2.7L557.30 -2.2L557.80 -2.0L558.30 -1.2L558.80 -0.7L559.30 -0.3L559.30 0.5L558.80 1.3L558.30 2.4L557.80 2.8L557.30 3.7L556.80 4.2L556.30 5.6L555.80 5.9L555.30 6.4L554.80 6.2L554.30 8.0L553.80 7.8L553.30 7.9L552.80 10.5L552.30 9.5L551.80 10.3L551.30 8.1L550.80 8.9L550.30 8.6L549.80 6.7L549.30 7.5L548.80 7.4L548.30 7.0L547.80 6.2L547.30 5.9L546.80 5.2L546.30 4.7L545.80 4.7L545.30 5.0L544.80 5.1L544.30 4.9L543.80 5.1L543.30 5.0L542.80 5.1L542.30 5.4L541.80 4.7L541.30 4.6L540.80 5.3L540.30 4.5L539.80 4.5L539.30 4.0L538.80 4.2L538.30 3.7L537.80 3.8L537.30 3.8L536.80 3.6L536.30 3.9L535.80 3.5L535.30 3.2L534.80 3.6L534.30 3.8L533.80 3.8L533.30 4.4L532.80 4.4L532.30 5.1L531.80 5.3L531.30 4.9L530.80 4.6L530.30 3.8L529.80 2.8L529.30 1.9L528.80 1.0L528.30 0.0ZM561.70 -0.0L562.20 -0.8L562.70 -1.8L563.20 -2.8L563.70 -3.5L564.20 -4.5L564.70 -4.9L565.20 -6.1L565.70 -7.3L566.20 -7.4L566.70 -7.1L567.20 -8.2L567.70 -8.4L568.20 -7.3L568.70 -8.3L569.20 -9.1L569.70 -9.6L570.20 -9.3L570.70 -9.3L571.20 -8.8L571.70 -9.9L572.20 -11.2L572.70 -12.1L573.20 -11.6L573.70 -11.9L574.20 -12.3L574.70 -14.4L575.20 -12.3L575.70 -12.8L576.20 -11.1L576.70 -13.6L577.20 -12.3L577.70 -12.9L578.20 -12.9L578.70 -11.1L579.20 -10.9L579.70 -10.7L580.20 -10.7L580.70 -13.4L581.20 -11.1L581.70 -9.9L582.20 -10.2L582.70 -7.3L583.20 -7.8L583.70 -6.1L584.20 -5.0L584.70 -4.2L585.20 -2.7L585.70 -1.5L586.20 -0.5L586.20 0.5L585.70 1.9L585.20 3.0L584.70 4.4L584.20 5.5L583.70 7.0L583.20 8.3L582.70 9.8L582.20 12.0L581.70 12.6L581.20 15.0L580.70 16.7L580.20 16.6L579.70 16.8L579.20 14.7L578.70 15.6L578.20 17.3L577.70 18.4L577.20 17.6L576.70 17.6L576.20 18.7L575.70 18.6L575.20 16.9L574.70 20.3L574.20 19.1L573.70 18.4L573.20 16.1L572.70 16.1L572.20 16.0L571.70 12.7L571.20 11.6L570.70 10.6L570.20 10.8L569.70 10.0L569.20 10.3L568.70 8.9L568.20 9.1L567.70 8.0L567.20 7.4L566.70 8.1L566.20 6.8L565.70 6.8L565.20 6.0L564.70 5.7L564.20 4.4L563.70 3.6L563.20 2.5L562.70 2.0L562.20 0.9L561.70 0.0ZM594.10 -2.4L594.60 -2.0L595.10 -1.5L595.60 -1.1L596.10 -1.9L596.60 -4.2L597.10 -6.1L597.60 -7.2L598.10 -8.4L598.60 -9.8L599.10 -11.0L599.60 -12.3L600.10 -11.5L600.60 -11.5L601.10 -13.6L601.60 -14.5L602.10 -15.5L602.60 -15.1L603.10 -13.9L603.60 -12.3L604.10 -14.7L604.60 -13.7L605.10 -13.6L605.60 -12.1L606.10 -12.1L606.60 -12.6L607.10 -10.8L607.60 -11.0L608.10 -12.3L608.60 -10.8L609.10 -9.8L609.60 -10.2L610.10 -8.9L610.60 -8.4L611.10 -8.0L611.60 -7.1L612.10 -7.6L612.60 -6.4L613.10 -6.5L613.60 -5.6L614.10 -4.7L614.60 -3.9L615.10 -2.7L615.60 -1.7L616.10 -0.6L616.10 0.7L615.60 1.8L615.10 3.2L614.60 4.1L614.10 5.3L613.60 6.7L613.10 8.0L612.60 8.5L612.10 10.0L611.60 11.2L611.10 11.7L610.60 10.9L610.10 11.8L609.60 12.4L609.10 11.5L608.60 14.5L608.10 12.7L607.60 14.4L607.10 14.3L606.60 15.5L606.10 13.1L605.60 15.7L605.10 13.3L604.60 17.0L604.10 14.3L603.60 14.1L603.10 17.2L602.60 15.9L602.10 15.8L601.60 13.9L601.10 14.7L600.60 14.7L600.10 12.5L599.60 12.5L599.10 12.2L598.60 12.1L598.10 12.7L597.60 10.6L597.10 8.0L596.60 4.4L596.10 2.1L595.60 1.2L595.10 1.8L594.60 2.5L594.10 4.1ZM626.30 -0.0L626.80 -1.1L627.30 -2.7L627.80 -3.9L628.30 -4.4L628.80 -5.2L629.30 -6.7L629.80 -6.6L630.30 -6.8L630.80 -7.0L631.30 -7.4L631.80 -7.5L632.30 -6.4L632.80 -7.9L633.30 -7.2L633.80 -8.6L634.30 -8.4L634.80 -9.1L635.30 -7.7L635.80 -9.3L636.30 -9.1L636.80 -8.7L637.30 -10.5L637.80 -9.2L638.30 -12.0L638.80 -11.4L639.30 -12.7L639.80 -12.3L640.30 -10.2L640.80 -10.2L641.30 -11.7L641.80 -11.5L642.30 -10.1L642.80 -10.3L643.30 -10.8L643.80 -8.5L644.30 -9.2L644.80 -9.7L645.30 -9.9L645.80 -8.8L646.30 -8.6L646.80 -7.8L647.30 -7.7L647.80 -6.9L648.30 -6.2L648.80 -5.0L649.30 -5.2L649.80 -4.2L650.30 -3.5L650.80 -3.1L651.30 -2.4L651.80 -1.5L652.30 -0.7L652.30 1.1L651.80 2.6L651.30 3.6L650.80 4.8L650.30 5.7L649.80 6.9L649.30 7.5L648.80 9.3L648.30 11.2L647.80 12.0L647.30 13.2L646.80 13.4L646.30 14.0L645.80 13.6L645.30 17.1L644.80 13.9L644.30 17.0L643.80 17.5L643.30 16.4L642.80 16.1L642.30 18.7L641.80 17.7L641.30 17.3L640.80 16.8L640.30 19.6L639.80 16.3L639.30 17.7L638.80 18.6L638.30 15.7L637.80 16.8L637.30 15.9L636.80 13.3L636.30 14.5L635.80 12.5L635.30 10.8L634.80 12.0L634.30 11.4L633.80 10.6L633.30 9.7L632.80 10.3L632.30 7.4L631.80 8.1L631.30 7.2L630.80 7.3L630.30 6.9L629.80 6.6L629.30 5.8L628.80 5.5L628.30 4.4L627.80 3.5L627.30 2.3L626.80 1.0L626.30 0.0ZM659.50 -0.0L660.00 -2.1L660.50 -4.1L661.00 -6.5L661.50 -7.8L662.00 -7.8L662.50 -8.9L663.00 -9.8L663.50 -10.4L664.00 -9.7L664.50 -9.6L665.00 -11.2L665.50 -9.9L666.00 -11.8L666.50 -10.8L667.00 -10.6L667.50 -13.0L668.00 -12.4L668.50 -12.8L669.00 -12.6L669.50 -11.6L670.00 -13.5L670.50 -13.3L671.00 -10.9L671.50 -12.0L672.00 -10.4L672.50 -10.9L673.00 -10.3L673.50 -9.6L674.00 -10.4L674.50 -10.6L675.00 -9.5L675.50 -11.1L676.00 -9.2L676.50 -9.0L677.00 -7.6L677.50 -7.0L678.00 -5.8L678.50 -6.2L679.00 -5.0L679.50 -3.5L680.00 -3.2L680.50 -3.2L681.00 -2.2L681.50 -1.5L682.00 -1.1L682.50 -0.6L683.00 -0.0L683.00 0.0L682.50 1.3L682.00 2.7L681.50 3.2L681.00 5.2L680.50 5.6L680.00 6.9L679.50 8.8L679.00 9.1L678.50 9.8L678.00 9.2L677.50 10.2L677.00 10.4L676.50 11.4L676.00 11.0L675.50 12.1L675.00 14.2L674.50 13.0L674.00 12.2L673.50 15.0L673.00 15.6L672.50 15.0L672.00 14.1L671.50 16.6L671.00 14.9L670.50 15.4L670.00 15.9L669.50 14.8L669.00 17.4L668.50 16.2L668.00 16.9L667.50 16.6L667.00 15.4L666.50 15.7L666.00 14.4L665.50 13.3L665.00 13.9L664.50 12.8L664.00 10.5L663.50 9.6L663.00 10.0L662.50 8.7L662.00 7.2L661.50 6.8L661.00 4.1L660.50 2.9L660.00 1.4L659.50 0.0ZM692.50 -0.0L693.00 -2.1L693.50 -4.0L694.00 -5.2L694.50 -8.1L695.00 -8.5L695.50 -7.9L696.00 -7.0L696.50 -6.8L697.00 -7.4L697.50 -7.2L698.00 -7.2L698.50 -6.7L699.00 -6.8L699.50 -7.5L700.00 -9.1L700.50 -8.0L701.00 -8.4L701.50 -9.3L702.00 -11.7L702.50 -11.4L703.00 -10.1L703.50 -10.1L704.00 -10.0L704.50 -11.6L705.00 -10.5L705.50 -11.7L706.00 -13.2L706.50 -12.9L707.00 -14.0L707.50 -12.9L708.00 -11.4L708.50 -11.8L709.00 -9.9L709.50 -10.8L710.00 -10.8L710.50 -11.1L711.00 -10.1L711.50 -8.6L712.00 -8.4L712.50 -7.7L713.00 -8.8L713.50 -7.4L714.00 -5.3L714.50 -4.9L715.00 -4.5L715.50 -3.2L716.00 -2.7L716.50 -1.5L717.00 -0.9L717.50 -0.2L717.50 0.5L717.00 1.8L716.50 3.1L716.00 3.8L715.50 5.7L715.00 7.0L714.50 8.9L714.00 9.0L713.50 10.4L713.00 13.3L712.50 13.2L712.00 13.1L711.50 15.8L711.00 15.9L710.50 16.3L710.00 17.1L709.50 15.7L709.00 14.7L708.50 18.7L708.00 16.2L707.50 19.0L707.00 18.1L706.50 16.5L706.00 19.1L705.50 15.4L705.00 15.5L704.50 17.8L704.00 18.7L703.50 18.3L703.00 18.2L702.50 15.1L702.00 15.6L701.50 16.4L701.00 13.1L700.50 12.4L700.00 14.0L699.50 13.5L699.00 12.2L698.50 10.7L698.00 9.6L697.50 8.3L697.00 9.0L696.50 8.5L696.00 7.3L695.50 8.0L695.00 6.9L694.50 6.6L694.00 4.7L693.50 3.3L693.00 1.5L692.50 0.0ZM726.30 -0.0L726.80 -2.4L727.30 -4.4L727.80 -5.7L728.30 -6.5L728.80 -6.2L729.30 -6.5L729.80 -7.8L730.30 -6.6L730.80 -7.8L731.30 -8.4L731.80 -8.5L732.30 -8.4L732.80 -9.1L733.30 -8.8L733.80 -9.5L734.30 -7.8L734.80 -7.5L735.30 -7.4L735.80 -8.1L736.30 -7.5L736.80 -7.3L737.30 -8.1L737.80 -8.0L738.30 -7.5L738.80 -6.7L739.30 -6.9L739.80 -7.1L740.30 -6.5L740.80 -7.8L741.30 -7.8L741.80 -7.6L742.30 -7.6L742.80 -6.7L743.30 -6.4L743.80 -6.0L744.30 -5.6L744.80 -5.8L745.30 -5.6L745.80 -6.6L746.30 -5.5L746.80 -5.4L747.30 -5.2L747.80 -5.4L748.30 -5.1L748.80 -5.3L749.30 -5.6L749.80 -4.7L750.30 -4.8L750.80 -4.4L751.30 -4.4L751.80 -4.2L752.30 -4.1L752.80 -4.8L753.30 -4.3L753.80 -4.3L754.30 -4.4L754.80 -3.5L755.30 -4.2L755.80 -3.5L756.30 -1.1L756.30 1.1L755.80 3.5L755.30 4.0L754.80 3.3L754.30 3.7L753.80 4.1L753.30 3.8L752.80 3.4L752.30 3.5L751.80 3.7L751.30 3.9L750.80 4.3L750.30 4.2L749.80 4.5L749.30 3.8L748.80 4.6L748.30 4.1L747.80 4.4L747.30 4.5L746.80 3.8L746.30 4.4L745.80 4.2L745.30 4.7L744.80 4.4L744.30 4.4L743.80 3.9L743.30 4.1L742.80 4.3L742.30 4.5L741.80 4.3L741.30 4.8L740.80 5.4L740.30 4.6L739.80 5.0L739.30 5.1L738.80 4.7L738.30 4.8L737.80 5.9L737.30 5.5L736.80 5.2L736.30 5.5L735.80 5.2L735.30 6.3L734.80 6.7L734.30 5.4L733.80 6.0L733.30 5.7L732.80 5.5L732.30 5.6L731.80 5.4L731.30 5.4L730.80 5.4L730.30 4.8L729.80 5.4L729.30 4.6L728.80 4.4L728.30 5.0L727.80 4.4L727.30 3.3L726.80 1.8L726.30 0.0ZM757.90 -0.0L758.40 -2.2L758.90 -5.1L759.40 -6.9L759.90 -7.0L760.40 -5.9L760.90 -6.9L761.40 -6.1L761.90 -6.3L762.40 -6.8L762.90 -5.7L763.40 -5.5L763.90 -5.5L764.40 -5.8L764.90 -6.0L765.40 -5.7L765.90 -6.0L766.40 -5.3L766.90 -6.1L767.40 -5.7L767.90 -5.8L768.40 -5.0L768.90 -5.0L769.40 -4.7L769.90 -5.0L770.40 -5.1L770.90 -4.6L771.40 -4.6L771.90 -4.8L772.40 -4.2L772.90 -4.9L773.40 -4.1L773.90 -5.0L774.40 -5.1L774.90 -5.1L775.40 -4.9L775.90 -4.7L776.40 -5.7L776.90 -5.3L777.40 -5.4L777.90 -6.4L778.40 -6.0L778.90 -5.8L779.40 -7.3L779.90 -6.1L780.40 -7.3L780.90 -6.4L781.40 -7.6L781.90 -7.9L782.40 -8.5L782.90 -7.7L783.40 -8.9L783.90 -8.3L784.40 -8.7L784.90 -7.5L785.40 -9.0L785.90 -7.1L786.40 -6.0L786.90 -4.8L787.40 -3.8L787.90 -2.8L788.40 -1.3L788.40 1.4L787.90 2.8L787.40 3.5L786.90 3.8L786.40 5.2L785.90 5.8L785.40 5.6L784.90 6.7L784.40 5.8L783.90 5.5L783.40 6.2L782.90 5.7L782.40 6.0L781.90 5.7L781.40 4.9L780.90 5.1L780.40 5.2L779.90 5.2L779.40 5.6L778.90 4.5L778.40 5.3L777.90 5.5L777.40 4.6L776.90 4.6L776.40 5.1L775.90 5.1L775.40 4.7L774.90 4.2L774.40 4.7L773.90 4.9L773.40 4.7L772.90 4.2L772.40 4.1L771.90 4.1L771.40 4.7L770.90 3.9L770.40 4.0L769.90 4.3L769.40 4.6L768.90 4.4L768.40 4.3L767.90 3.8L767.40 3.7L766.90 4.1L766.40 4.2L765.90 4.0L765.40 4.3L764.90 3.3L764.40 4.0L763.90 3.9L763.40 3.6L762.90 3.7L762.40 3.9L761.90 4.7L761.40 4.2L760.90 4.0L760.40 4.4L759.90 4.4L759.40 4.8L758.90 3.1L758.40 1.8L757.90 0.0Z" fill="#FCB02E"/></g><clipPath id="cx"><rect x="143.5" y="0" width="700" height="728"/></clipPath><linearGradient id="g1537_198" x1="153.70" x2="270.50" y1="0" y2="0" gradientUnits="userSpaceOnUse"><stop offset="0.0000" stop-color="#000" stop-opacity="0.120"/><stop offset="0.0813" stop-color="#000" stop-opacity="0.720"/><stop offset="0.1627" stop-color="#000" stop-opacity="0.920"/><stop offset="0.3510" stop-color="#000" stop-opacity="0.965"/><stop offset="0.5000" stop-color="#000" stop-opacity="0.990"/><stop offset="0.6490" stop-color="#000" stop-opacity="0.965"/><stop offset="0.8373" stop-color="#000" stop-opacity="0.920"/><stop offset="0.9187" stop-color="#000" stop-opacity="0.620"/><stop offset="0.9829" stop-color="#000" stop-opacity="0.120"/><stop offset="1.0000" stop-color="#000" stop-opacity="0.000"/></linearGradient><linearGradient id="g2858_198" x1="285.80" x2="402.50" y1="0" y2="0" gradientUnits="userSpaceOnUse"><stop offset="0.0000" stop-color="#000" stop-opacity="0.120"/><stop offset="0.0814" stop-color="#000" stop-opacity="0.720"/><stop offset="0.1628" stop-color="#000" stop-opacity="0.920"/><stop offset="0.3513" stop-color="#000" stop-opacity="0.965"/><stop offset="0.5000" stop-color="#000" stop-opacity="0.990"/><stop offset="0.6487" stop-color="#000" stop-opacity="0.965"/><stop offset="0.8372" stop-color="#000" stop-opacity="0.920"/><stop offset="0.9186" stop-color="#000" stop-opacity="0.620"/><stop offset="0.9829" stop-color="#000" stop-opacity="0.120"/><stop offset="1.0000" stop-color="#000" stop-opacity="0.000"/></linearGradient><linearGradient id="g4164_198" x1="416.40" x2="534.50" y1="0" y2="0" gradientUnits="userSpaceOnUse"><stop offset="0.0000" stop-color="#000" stop-opacity="0.120"/><stop offset="0.0804" stop-color="#000" stop-opacity="0.720"/><stop offset="0.1609" stop-color="#000" stop-opacity="0.920"/><stop offset="0.3472" stop-color="#000" stop-opacity="0.965"/><stop offset="0.5000" stop-color="#000" stop-opacity="0.990"/><stop offset="0.6528" stop-color="#000" stop-opacity="0.965"/><stop offset="0.8391" stop-color="#000" stop-opacity="0.920"/><stop offset="0.9196" stop-color="#000" stop-opacity="0.620"/><stop offset="0.9831" stop-color="#000" stop-opacity="0.120"/><stop offset="1.0000" stop-color="#000" stop-opacity="0.000"/></linearGradient><linearGradient id="g5488_198" x1="548.80" x2="664.00" y1="0" y2="0" gradientUnits="userSpaceOnUse"><stop offset="0.0000" stop-color="#000" stop-opacity="0.120"/><stop offset="0.0825" stop-color="#000" stop-opacity="0.720"/><stop offset="0.1649" stop-color="#000" stop-opacity="0.920"/><stop offset="0.3559" stop-color="#000" stop-opacity="0.965"/><stop offset="0.5000" stop-color="#000" stop-opacity="0.990"/><stop offset="0.6441" stop-color="#000" stop-opacity="0.965"/><stop offset="0.8351" stop-color="#000" stop-opacity="0.920"/><stop offset="0.9175" stop-color="#000" stop-opacity="0.620"/><stop offset="0.9826" stop-color="#000" stop-opacity="0.120"/><stop offset="1.0000" stop-color="#000" stop-opacity="0.000"/></linearGradient><linearGradient id="g6794_198" x1="679.40" x2="788.80" y1="0" y2="0" gradientUnits="userSpaceOnUse"><stop offset="0.0000" stop-color="#000" stop-opacity="0.120"/><stop offset="0.0548" stop-color="#000" stop-opacity="0.720"/><stop offset="0.1097" stop-color="#000" stop-opacity="0.920"/><stop offset="0.3108" stop-color="#000" stop-opacity="0.965"/><stop offset="0.5000" stop-color="#000" stop-opacity="0.990"/><stop offset="0.6892" stop-color="#000" stop-opacity="0.965"/><stop offset="0.8903" stop-color="#000" stop-opacity="0.920"/><stop offset="0.9452" stop-color="#000" stop-opacity="0.620"/><stop offset="0.9817" stop-color="#000" stop-opacity="0.550"/><stop offset="1.0000" stop-color="#000" stop-opacity="0.550"/></linearGradient><linearGradient id="g1445_270" x1="144.50" x2="206.00" y1="0" y2="0" gradientUnits="userSpaceOnUse"><stop offset="0.0000" stop-color="#000" stop-opacity="0.970"/><stop offset="0.3333" stop-color="#000" stop-opacity="0.965"/><stop offset="0.5000" stop-color="#000" stop-opacity="0.990"/><stop offset="0.6911" stop-color="#000" stop-opacity="0.920"/><stop offset="0.8455" stop-color="#000" stop-opacity="0.620"/><stop offset="0.9675" stop-color="#000" stop-opacity="0.120"/><stop offset="1.0000" stop-color="#000" stop-opacity="0.000"/></linearGradient><linearGradient id="g2185_270" x1="218.50" x2="335.50" y1="0" y2="0" gradientUnits="userSpaceOnUse"><stop offset="0.0000" stop-color="#000" stop-opacity="0.120"/><stop offset="0.0812" stop-color="#000" stop-opacity="0.720"/><stop offset="0.1624" stop-color="#000" stop-opacity="0.920"/><stop offset="0.3504" stop-color="#000" stop-opacity="0.965"/><stop offset="0.5000" stop-color="#000" stop-opacity="0.990"/><stop offset="0.6496" stop-color="#000" stop-opacity="0.965"/><stop offset="0.8376" stop-color="#000" stop-opacity="0.920"/><stop offset="0.9188" stop-color="#000" stop-opacity="0.620"/><stop offset="0.9829" stop-color="#000" stop-opacity="0.120"/><stop offset="1.0000" stop-color="#000" stop-opacity="0.000"/></linearGradient><linearGradient id="g3490_270" x1="349.00" x2="466.50" y1="0" y2="0" gradientUnits="userSpaceOnUse"><stop offset="0.0000" stop-color="#000" stop-opacity="0.120"/><stop offset="0.0809" stop-color="#000" stop-opacity="0.720"/><stop offset="0.1617" stop-color="#000" stop-opacity="0.920"/><stop offset="0.3489" stop-color="#000" stop-opacity="0.965"/><stop offset="0.5000" stop-color="#000" stop-opacity="0.990"/><stop offset="0.6511" stop-color="#000" stop-opacity="0.965"/><stop offset="0.8383" stop-color="#000" stop-opacity="0.920"/><stop offset="0.9191" stop-color="#000" stop-opacity="0.620"/><stop offset="0.9830" stop-color="#000" stop-opacity="0.120"/><stop offset="1.0000" stop-color="#000" stop-opacity="0.000"/></linearGradient><linearGradient id="g4805_270" x1="480.50" x2="595.50" y1="0" y2="0" gradientUnits="userSpaceOnUse"><stop offset="0.0000" stop-color="#000" stop-opacity="0.120"/><stop offset="0.0826" stop-color="#000" stop-opacity="0.720"/><stop offset="0.1652" stop-color="#000" stop-opacity="0.920"/><stop offset="0.3565" stop-color="#000" stop-opacity="0.965"/><stop offset="0.5000" stop-color="#000" stop-opacity="0.990"/><stop offset="0.6435" stop-color="#000" stop-opacity="0.965"/><stop offset="0.8348" stop-color="#000" stop-opacity="0.920"/><stop offset="0.9174" stop-color="#000" stop-opacity="0.620"/><stop offset="0.9826" stop-color="#000" stop-opacity="0.120"/><stop offset="1.0000" stop-color="#000" stop-opacity="0.000"/></linearGradient><linearGradient id="g6130_270" x1="613.00" x2="728.50" y1="0" y2="0" gradientUnits="userSpaceOnUse"><stop offset="0.0000" stop-color="#000" stop-opacity="0.120"/><stop offset="0.0823" stop-color="#000" stop-opacity="0.720"/><stop offset="0.1645" stop-color="#000" stop-opacity="0.920"/><stop offset="0.3550" stop-color="#000" stop-opacity="0.965"/><stop offset="0.5000" stop-color="#000" stop-opacity="0.990"/><stop offset="0.6450" stop-color="#000" stop-opacity="0.965"/><stop offset="0.8355" stop-color="#000" stop-opacity="0.920"/><stop offset="0.9177" stop-color="#000" stop-opacity="0.620"/><stop offset="0.9827" stop-color="#000" stop-opacity="0.120"/><stop offset="1.0000" stop-color="#000" stop-opacity="0.000"/></linearGradient><linearGradient id="g7443_270" x1="744.30" x2="789.20" y1="0" y2="0" gradientUnits="userSpaceOnUse"><stop offset="0.0000" stop-color="#000" stop-opacity="0.120"/><stop offset="0.2116" stop-color="#000" stop-opacity="0.720"/><stop offset="0.4232" stop-color="#000" stop-opacity="0.920"/><stop offset="0.5000" stop-color="#000" stop-opacity="0.990"/><stop offset="0.9131" stop-color="#000" stop-opacity="0.965"/><stop offset="1.0000" stop-color="#000" stop-opacity="0.970"/></linearGradient><clipPath id="c1"><rect x="153.7" y="198.5" width="116.8" height="44.3"/><rect x="285.8" y="198.5" width="116.7" height="44.3"/><rect x="416.4" y="198.5" width="118.1" height="44.3"/><rect x="548.8" y="198.5" width="115.2" height="44.3"/><rect x="679.4" y="198.5" width="109.4" height="44.3"/></clipPath><clipPath id="c2"><rect x="144.5" y="270.5" width="61.5" height="43.8"/><rect x="218.5" y="270.5" width="117.0" height="43.8"/><rect x="349.0" y="270.5" width="117.5" height="43.8"/><rect x="480.5" y="270.5" width="115.0" height="43.8"/><rect x="613.0" y="270.5" width="115.5" height="43.8"/><rect x="744.3" y="270.5" width="44.9" height="43.8"/></clipPath></defs>
<text x="451.7" y="38.7" font-size="26.3" font-weight="bold" text-anchor="middle" fill="#000">speech stimulus &amp; task</text>
<text x="466.2" y="390.7" font-size="26.4" font-weight="bold" text-anchor="middle" fill="#000">response spectrum</text>
<text x="207.3" y="83.1" font-size="23.4" font-weight="bold" text-anchor="middle" fill="#FFB400">sentence</text>
<path d="M151.8 129.7 L168.8 111.2 L203.0 92.2 L235.7 111.2 L252.7 129.7 M168.8 111.2 L187.1 129.7 M235.7 111.2 L218.7 129.7" fill="none" stroke="#FFB400" stroke-width="3.2" stroke-linejoin="round" stroke-linecap="round"/>
<text x="335.6" y="83.1" font-size="23.4" font-weight="bold" text-anchor="middle" fill="#FFB400">sentence</text>
<path d="M282.0 129.7 L299.0 111.2 L333.1 92.2 L365.9 111.2 L382.9 129.7 M299.0 111.2 L317.2 129.7 M365.9 111.2 L348.9 129.7" fill="none" stroke="#FFB400" stroke-width="3.2" stroke-linejoin="round" stroke-linecap="round"/>
<text x="463.8" y="83.1" font-size="23.4" font-weight="bold" text-anchor="middle" fill="#FFB400">sentence</text>
<path d="M412.1 129.7 L429.1 111.2 L463.3 92.2 L496.0 111.2 L513.0 129.7 M429.1 111.2 L447.4 129.7 M496.0 111.2 L479.0 129.7" fill="none" stroke="#FFB400" stroke-width="3.2" stroke-linejoin="round" stroke-linecap="round"/>
<text x="592.0" y="83.1" font-size="23.4" font-weight="bold" text-anchor="middle" fill="#FFB400">sentence</text>
<path d="M542.2 129.7 L559.2 111.2 L593.5 92.2 L626.2 111.2 L643.2 129.7 M559.2 111.2 L577.6 129.7 M626.2 111.2 L609.2 129.7" fill="none" stroke="#FFB400" stroke-width="3.2" stroke-linejoin="round" stroke-linecap="round"/>
<text x="720.3" y="83.1" font-size="23.4" font-weight="bold" text-anchor="middle" fill="#FFB400">sentence</text>
<path d="M672.4 129.7 L689.4 111.2 L723.6 92.2 L756.3 111.2 L773.3 129.7 M689.4 111.2 L707.7 129.7 M756.3 111.2 L739.3 129.7" fill="none" stroke="#FFB400" stroke-width="3.2" stroke-linejoin="round" stroke-linecap="round"/>
<circle cx="806.2" cy="74.0" r="2.6" fill="#FBB040"/>
<circle cx="816.8" cy="74.0" r="2.6" fill="#FBB040"/>
<circle cx="828.3" cy="74.0" r="2.6" fill="#FBB040"/>
<circle cx="808.2" cy="158.0" r="2.6" fill="#FBB040"/>
<circle cx="818.9" cy="158.0" r="2.6" fill="#FBB040"/>
<circle cx="829.9" cy="158.0" r="2.6" fill="#FBB040"/>
<text x="851" y="83" font-size="23.5" font-weight="bold" fill="#FFB400">1 Hz</text>
<text x="850.7" y="163" font-size="23.5" font-weight="bold" fill="#FFB400">4 Hz</text>
<text x="10.3" y="159.2" font-size="24" font-weight="bold" font-style="italic" fill="#FFB400">stimulus</text>
<use href="#wave" transform="translate(0 154.6)"/>
<g clip-path="url(#cx)"><use href="#wave" transform="translate(0 220.6)"/></g>
<rect x="153.7" y="198.5" width="116.8" height="44.3" fill="url(#g1537_198)"/><rect x="153.7" y="198.5" width="116.8" height="2" fill="url(#g1537_198)" opacity="0.45"/><rect x="153.7" y="241.0" width="116.8" height="1.6" fill="url(#g1537_198)" opacity="0.45"/><rect x="285.8" y="198.5" width="116.7" height="44.3" fill="url(#g2858_198)"/><rect x="285.8" y="198.5" width="116.7" height="2" fill="url(#g2858_198)" opacity="0.45"/><rect x="285.8" y="241.0" width="116.7" height="1.6" fill="url(#g2858_198)" opacity="0.45"/><rect x="416.4" y="198.5" width="118.1" height="44.3" fill="url(#g4164_198)"/><rect x="416.4" y="198.5" width="118.1" height="2" fill="url(#g4164_198)" opacity="0.45"/><rect x="416.4" y="241.0" width="118.1" height="1.6" fill="url(#g4164_198)" opacity="0.45"/><rect x="548.8" y="198.5" width="115.2" height="44.3" fill="url(#g5488_198)"/><rect x="548.8" y="198.5" width="115.2" height="2" fill="url(#g5488_198)" opacity="0.45"/><rect x="548.8" y="241.0" width="115.2" height="1.6" fill="url(#g5488_198)" opacity="0.45"/><rect x="679.4" y="198.5" width="109.4" height="44.3" fill="url(#g6794_198)"/><rect x="679.4" y="198.5" width="109.4" height="2" fill="url(#g6794_198)" opacity="0.45"/><rect x="679.4" y="241.0" width="109.4" height="1.6" fill="url(#g6794_198)" opacity="0.45"/>
<g clip-path="url(#cx)"><use href="#wave" transform="translate(0 291.6)"/></g>
<rect x="144.5" y="270.5" width="61.5" height="43.8" fill="url(#g1445_270)"/><rect x="144.5" y="270.5" width="61.5" height="2" fill="url(#g1445_270)" opacity="0.45"/><rect x="144.5" y="312.5" width="61.5" height="1.6" fill="url(#g1445_270)" opacity="0.45"/><rect x="218.5" y="270.5" width="117.0" height="43.8" fill="url(#g2185_270)"/><rect x="218.5" y="270.5" width="117.0" height="2" fill="url(#g2185_270)" opacity="0.45"/><rect x="218.5" y="312.5" width="117.0" height="1.6" fill="url(#g2185_270)" opacity="0.45"/><rect x="349.0" y="270.5" width="117.5" height="43.8" fill="url(#g3490_270)"/><rect x="349.0" y="270.5" width="117.5" height="2" fill="url(#g3490_270)" opacity="0.45"/><rect x="349.0" y="312.5" width="117.5" height="1.6" fill="url(#g3490_270)" opacity="0.45"/><rect x="480.5" y="270.5" width="115.0" height="43.8" fill="url(#g4805_270)"/><rect x="480.5" y="270.5" width="115.0" height="2" fill="url(#g4805_270)" opacity="0.45"/><rect x="480.5" y="312.5" width="115.0" height="1.6" fill="url(#g4805_270)" opacity="0.45"/><rect x="613.0" y="270.5" width="115.5" height="43.8" fill="url(#g6130_270)"/><rect x="613.0" y="270.5" width="115.5" height="2" fill="url(#g6130_270)" opacity="0.45"/><rect x="613.0" y="312.5" width="115.5" height="1.6" fill="url(#g6130_270)" opacity="0.45"/><rect x="744.3" y="270.5" width="44.9" height="43.8" fill="url(#g7443_270)"/><rect x="744.3" y="270.5" width="44.9" height="2" fill="url(#g7443_270)" opacity="0.45"/><rect x="744.3" y="312.5" width="44.9" height="1.6" fill="url(#g7443_270)" opacity="0.45"/>
<circle cx="808.6" cy="220.0" r="2.6" fill="#000"/>
<circle cx="819.8" cy="220.0" r="2.6" fill="#000"/>
<circle cx="830.4" cy="220.0" r="2.6" fill="#000"/>
<circle cx="808.6" cy="289.4" r="2.6" fill="#000"/>
<circle cx="819.8" cy="289.4" r="2.6" fill="#000"/>
<circle cx="830.4" cy="289.4" r="2.6" fill="#000"/>
<text x="22" y="209.4" font-size="23.5" font-style="italic" fill="#000">focus: 1</text>
<text x="22" y="281.2" font-size="23.5" font-style="italic" fill="#000">focus: 3</text>
<ellipse cx="52.5" cy="234.2" rx="10.5" ry="14.5" fill="#000"/>
<ellipse cx="72.0" cy="234.2" rx="10.5" ry="14.5" fill="#000"/>
<ellipse cx="91.0" cy="234.2" rx="10.5" ry="14.5" fill="#000"/>
<circle cx="35.2" cy="234.2" r="15.2" fill="#FDB300"/>
<path d="M34.2 226.3 H38.9 V243 H34.5 V231.6 C33 233 31.2 234 29.4 234.6 V230.5 C31.4 229.7 33.2 228.3 34.2 226.3Z" fill="#000"/>
<ellipse cx="34.0" cy="305.1" rx="10.5" ry="14.5" fill="#000"/>
<ellipse cx="52.5" cy="305.1" rx="10.5" ry="14.5" fill="#000"/>
<ellipse cx="91.0" cy="305.1" rx="10.5" ry="14.5" fill="#000"/>
<circle cx="71.5" cy="305.1" r="15.2" fill="#FDB300"/>
<text x="71.8" y="313.7" font-size="23.5" font-weight="bold" text-anchor="middle" fill="#000">3</text>
<text x="244.3" y="447.5" font-size="29.5" fill="#FF0000">EEG</text>
<path d="M80.0 612.4 L85.5 626.7 L96.6 619.0 L107.7 508.1 L118.7 620.5 L129.8 616.1 L140.9 626.3 L152.0 623.6 L163.0 627.4 L174.1 624.7 L185.2 630.7 L196.2 625.9 L207.3 629.6 L218.4 478.9 L229.4 628.5 L240.5 626.3 L251.6 628.1 L262.7 626.7 L273.7 629.6 L284.8 628.5 L295.9 629.6 L306.9 630.7 L318.0 628.1 L329.1 626.7 L340.1 628.1 L351.2 628.9 L362.3 627.8 L373.4 628.5 L384.4 630.3 L395.5 631.2 L406.6 628.9 L417.6 627.8 L428.7 628.9 L439.8 553.3 L450.8 628.5 L461.9 630.3 L467.4 630.3 L467.4 635.6 L461.9 635.6 L450.8 633.8 L439.8 593.5 L428.7 634.3 L417.6 633.2 L406.6 634.3 L395.5 636.5 L384.4 635.6 L373.4 633.8 L362.3 633.2 L351.2 634.3 L340.1 633.4 L329.1 632.0 L318.0 633.4 L306.9 636.0 L295.9 634.9 L284.8 633.8 L273.7 634.9 L262.7 632.0 L251.6 633.4 L240.5 631.6 L229.4 633.8 L218.4 522.8 L207.3 634.9 L196.2 631.2 L185.2 636.0 L174.1 630.1 L163.0 632.7 L152.0 628.9 L140.9 631.6 L129.8 626.7 L118.7 628.9 L107.7 582.5 L96.6 628.5 L85.5 636.9 L80.0 622.3Z" fill="#FF0000" fill-opacity="0.45"/>
<path d="M80.0 617.0 L85.5 631.2 L96.6 623.6 L107.7 546.1 L118.7 624.7 L129.8 621.4 L140.9 628.9 L152.0 626.3 L163.0 630.1 L174.1 627.4 L185.2 633.4 L196.2 628.5 L207.3 632.3 L218.4 502.0 L229.4 631.2 L240.5 628.9 L251.6 630.7 L262.7 629.4 L273.7 632.3 L284.8 631.2 L295.9 632.3 L306.9 633.4 L318.0 630.7 L329.1 629.4 L340.1 630.7 L351.2 631.6 L362.3 630.5 L373.4 631.2 L384.4 632.9 L395.5 633.8 L406.6 631.6 L417.6 630.5 L428.7 631.6 L439.8 572.3 L450.8 631.2 L461.9 632.9 L467.4 632.9" fill="none" stroke="#FF0000" stroke-width="5" stroke-linejoin="miter" stroke-miterlimit="3"/>
<path d="M79.8 450.3 V638.5 H468" fill="none" stroke="#000" stroke-width="3"/>
<path d="M80 593.5 H84.5" stroke="#000" stroke-width="2.4"/>
<path d="M80 549.3 H84.5" stroke="#000" stroke-width="2.4"/>
<path d="M80 505.0 H84.5" stroke="#000" stroke-width="2.4"/>
<path d="M80 460.8 H84.5" stroke="#000" stroke-width="2.4"/>
<path d="M107.7 638 V633" stroke="#000" stroke-width="2"/>
<path transform="translate(107.67 0.00)" d="M1.6 651.8 V670.4 H-0.9 V655.3 C-2.4 656.5 -4.2 657.7 -5.9 658.6 V656.2 C-3.5 655 -1.2 653.5 0.2 651.8Z" fill="#000"/>
<path d="M218.4 638 V633" stroke="#000" stroke-width="2"/>
<text x="218.4" y="670.3" font-size="26" text-anchor="middle" fill="#000">2</text>
<path d="M329.1 638 V633" stroke="#000" stroke-width="2"/>
<text x="329.1" y="670.3" font-size="26" text-anchor="middle" fill="#000">3</text>
<path d="M439.8 638 V633" stroke="#000" stroke-width="2"/>
<text x="439.8" y="670.3" font-size="26" text-anchor="middle" fill="#000">4</text>
<text x="73" y="469" font-size="26" text-anchor="end" fill="#000">.8</text>
<text x="73" y="558" font-size="26" text-anchor="end" fill="#000">.4</text>
<text x="73" y="641" font-size="26" text-anchor="end" fill="#000">0</text>
<text x="293.9" y="705.3" font-size="29.3" text-anchor="middle" fill="#000">frequency (Hz)</text>
<text transform="translate(36 540.4) rotate(-90)" font-size="28.9" text-anchor="middle" fill="#000">power (μV<tspan font-size="18.5" dy="-10.5">2</tspan><tspan dy="10.5">)</tspan></text>
<text x="108.5" y="514.6" font-size="29.5" text-anchor="middle" letter-spacing="1.95" fill="#000" stroke="#000" stroke-width="0.35">**</text>
<text x="220.3" y="491.6" font-size="29.5" text-anchor="middle" letter-spacing="1.95" fill="#000" stroke="#000" stroke-width="0.35">**</text>
<text x="441.5" y="558.3" font-size="29.5" text-anchor="middle" letter-spacing="1.95" fill="#000" stroke="#000" stroke-width="0.35">**</text>
<g transform="translate(0.0 0.0)"><path d="M124.2 422.6 C123.8 420.2 120.5 419.6 118.3 422.2 C116 425 114.6 428.5 113.6 432 L111 441.5 C109.8 446 108 449.6 106 449.6 C105 449.6 104.4 449 104.6 448.3" fill="none" stroke="#000" stroke-width="1.7"/><path d="M110.1 428.2 H118.3" stroke="#000" stroke-width="1.5"/><circle cx="123.6" cy="422.4" r="1.5" fill="#000"/><circle cx="105.2" cy="448.4" r="1.5" fill="#000"/></g>
<text x="119" y="450.3" font-size="21" fill="#000">sentence</text>
<path d="M138.6 459.6 L128.5 476.5" stroke="#000" stroke-width="3.2"/><path d="M121.4 488 L125.3 473.5 L133 478.3Z" fill="#000" stroke="#000" stroke-width="0.6" stroke-linejoin="round"/>
<g transform="translate(348.0 554.6)"><clipPath id="hc348"><ellipse cx="0" cy="0" rx="42.5" ry="45.5"/></clipPath><path transform="scale(-1 1)" d="M-41.5 -3.5 C-45 -4.8 -47.5 -4.5 -47.5 -1 L-47 14 C-47 18.5 -44.5 20 -41 19" fill="#fff" stroke="#000" stroke-width="2.4"/><path transform="scale(1 1)" d="M-41.5 -3.5 C-45 -4.8 -47.5 -4.5 -47.5 -1 L-47 14 C-47 18.5 -44.5 20 -41 19" fill="#fff" stroke="#000" stroke-width="2.4"/><ellipse cx="0" cy="0" rx="42.5" ry="45.5" fill="#fff"/><path d="M-50 -60 V-21 Q0 -13 50 -21 V-60Z" fill="#C0C0C0" clip-path="url(#hc348)"/><ellipse cx="0" cy="0" rx="42.5" ry="45.5" fill="none" stroke="#000" stroke-width="3"/><g transform="scale(-1 1)"><path d="M-31.8 0.6 C-31.2 1.6 -30.5 2 -29.5 2.5 Q-19.5 6.6 -9.5 2.5 C-8.5 2 -7.8 1.6 -7.2 0.6" fill="none" stroke="#000" stroke-width="2.4" stroke-linecap="round"/><path d="M-25.0 4 V8.2" stroke="#000" stroke-width="2.8"/><path d="M-19.5 4 V9.0" stroke="#000" stroke-width="2.8"/><path d="M-14.0 4 V8.2" stroke="#000" stroke-width="2.8"/></g><g transform="scale(1 1)"><path d="M-31.8 0.6 C-31.2 1.6 -30.5 2 -29.5 2.5 Q-19.5 6.6 -9.5 2.5 C-8.5 2 -7.8 1.6 -7.2 0.6" fill="none" stroke="#000" stroke-width="2.4" stroke-linecap="round"/><path d="M-25.0 4 V8.2" stroke="#000" stroke-width="2.8"/><path d="M-19.5 4 V9.0" stroke="#000" stroke-width="2.8"/><path d="M-14.0 4 V8.2" stroke="#000" stroke-width="2.8"/></g><path d="M-8 17.5 C-12 20 -10.5 26 -5 25 C-3 24.5 -1.5 23.5 0 24 C1.5 24.5 3 26 5.5 25 C10.5 23.5 10 19 8 17.5" fill="none" stroke="#000" stroke-width="2.4" stroke-linecap="round"/><path d="M-15.5 29.8 Q0 37.5 15.5 29.8 Q0 47.5 -15.5 29.8Z" fill="#000" stroke="#000" stroke-width="1.2" stroke-linejoin="round"/><path d="M-7.5 35.6 Q0 37.8 7.5 35.6" fill="none" stroke="#fff" stroke-width="0.8" opacity="0.85"/></g>
<text x="311" y="502.9" font-size="22" fill="#FF0000">Cz</text>
<path d="M348.7 514 V500.4 H401.2 V577 H386" fill="none" stroke="#FF0000" stroke-width="3.3"/>
<circle cx="348.7" cy="514.2" r="4.4" fill="#FF0000"/><circle cx="386.2" cy="577.3" r="4.4" fill="#FF0000"/>
<circle cx="401.2" cy="523.5" r="7.3" fill="#fff" stroke="#FF0000" stroke-width="2.8"/><path d="M396.8 523.5 H405.6" stroke="#FF0000" stroke-width="3.4"/>
<text x="641.8" y="448.4" font-size="29.2" fill="#0000FF">vertical EOG</text>
<path d="M526.8 572.1 L532.3 575.3 L543.4 578.6 L554.5 467.2 L565.5 607.9 L576.6 619.2 L587.7 611.2 L598.8 596.6 L609.8 611.2 L620.9 622.5 L632.0 619.2 L643.0 619.2 L654.1 619.2 L665.2 595.4 L676.2 619.2 L687.3 630.5 L698.4 619.7 L709.5 635.3 L720.5 633.6 L731.6 635.3 L742.7 635.9 L753.7 634.8 L764.8 634.8 L775.9 634.2 L786.9 634.8 L798.0 633.1 L809.1 634.8 L820.2 635.3 L831.2 635.9 L842.3 635.9 L853.4 635.9 L864.4 635.3 L875.5 634.2 L886.6 630.8 L897.6 635.9 L908.7 635.9 L914.2 635.9 L914.2 638.6 L908.7 638.6 L897.6 638.6 L886.6 633.5 L875.5 636.9 L864.4 638.0 L853.4 638.6 L842.3 638.6 L831.2 638.6 L820.2 638.0 L809.1 637.5 L798.0 635.8 L786.9 637.5 L775.9 636.9 L764.8 637.5 L753.7 637.5 L742.7 638.6 L731.6 638.0 L720.5 636.3 L709.5 638.0 L698.4 628.2 L687.3 635.0 L676.2 627.1 L665.2 618.0 L654.1 632.7 L643.0 632.7 L632.0 632.7 L620.9 630.5 L609.8 625.9 L598.8 619.2 L587.7 633.3 L576.6 629.3 L565.5 625.9 L554.5 550.2 L543.4 606.7 L532.3 611.2 L526.8 611.2Z" fill="#0000FF" fill-opacity="0.45"/>
<path d="M526.8 590.9 L532.3 594.3 L543.4 593.2 L554.5 507.9 L565.5 616.9 L576.6 623.7 L587.7 620.9 L598.8 610.1 L609.8 619.2 L620.9 627.1 L632.0 627.1 L643.0 627.1 L654.1 627.1 L665.2 607.9 L676.2 623.7 L687.3 632.7 L698.4 624.2 L709.5 636.7 L720.5 635.0 L731.6 636.7 L742.7 637.2 L753.7 636.1 L764.8 636.1 L775.9 635.5 L786.9 636.1 L798.0 634.4 L809.1 636.1 L820.2 636.7 L831.2 637.2 L842.3 637.2 L853.4 637.2 L864.4 636.7 L875.5 635.5 L886.6 632.2 L897.6 637.2 L908.7 637.2 L914.2 637.2" fill="none" stroke="#0000FF" stroke-width="5" stroke-linejoin="miter" stroke-miterlimit="3"/>
<path d="M526.8 461.7 V639.5 H914.3" fill="none" stroke="#000" stroke-width="3"/>
<path d="M527 583.0 H531.5" stroke="#000" stroke-width="2.4"/>
<path d="M527 528.3 H531.5" stroke="#000" stroke-width="2.4"/>
<path d="M527 463.3 H531.5" stroke="#000" stroke-width="2.4"/>
<path d="M554.5 639 V634" stroke="#000" stroke-width="2"/>
<path transform="translate(554.47 0.50)" d="M1.6 651.8 V670.4 H-0.9 V655.3 C-2.4 656.5 -4.2 657.7 -5.9 658.6 V656.2 C-3.5 655 -1.2 653.5 0.2 651.8Z" fill="#000"/>
<path d="M665.2 639 V634" stroke="#000" stroke-width="2"/>
<text x="665.2" y="670.8" font-size="26" text-anchor="middle" fill="#000">2</text>
<path d="M775.9 639 V634" stroke="#000" stroke-width="2"/>
<text x="775.9" y="670.8" font-size="26" text-anchor="middle" fill="#000">3</text>
<path d="M886.6 639 V634" stroke="#000" stroke-width="2"/>
<text x="886.6" y="670.8" font-size="26" text-anchor="middle" fill="#000">4</text>
<text x="520.5" y="479.5" font-size="26" text-anchor="end" fill="#000">15</text>
<text x="520.5" y="540.7" font-size="26" text-anchor="end" fill="#000">10</text>
<text x="520.5" y="597.4" font-size="26" text-anchor="end" fill="#000">5</text>
<text x="520.5" y="647.5" font-size="26" text-anchor="end" fill="#000">0</text>
<text x="715.7" y="704.9" font-size="29.3" text-anchor="middle" fill="#000">frequency (Hz)</text>
<text x="555.2" y="463.3" font-size="29.5" text-anchor="middle" letter-spacing="1.95" fill="#000" stroke="#000" stroke-width="0.35">**</text>
<text x="890.3" y="629.0" font-size="29.5" text-anchor="middle" letter-spacing="1.95" fill="#000" stroke="#000" stroke-width="0.35">**</text>
<g transform="translate(484.6 53.9)"><path d="M124.2 422.6 C123.8 420.2 120.5 419.6 118.3 422.2 C116 425 114.6 428.5 113.6 432 L111 441.5 C109.8 446 108 449.6 106 449.6 C105 449.6 104.4 449 104.6 448.3" fill="none" stroke="#000" stroke-width="1.7"/><path d="M110.1 428.2 H118.3" stroke="#000" stroke-width="1.5"/><circle cx="123.6" cy="422.4" r="1.5" fill="#000"/><circle cx="105.2" cy="448.4" r="1.5" fill="#000"/></g>
<text x="603" y="503.6" font-size="21" fill="#000">sentence</text>
<path d="M584 486.1 L571 477.5" stroke="#000" stroke-width="3.2"/><path d="M562.8 471.8 L577.4 476.7 L572.2 483.5Z" fill="#000" stroke="#000" stroke-width="0.6" stroke-linejoin="round"/>
<g transform="translate(793.6 555.4)"><clipPath id="hc793"><ellipse cx="0" cy="0" rx="42.5" ry="45.5"/></clipPath><path transform="scale(-1 1)" d="M-41.5 -3.5 C-45 -4.8 -47.5 -4.5 -47.5 -1 L-47 14 C-47 18.5 -44.5 20 -41 19" fill="#fff" stroke="#000" stroke-width="2.4"/><path transform="scale(1 1)" d="M-41.5 -3.5 C-45 -4.8 -47.5 -4.5 -47.5 -1 L-47 14 C-47 18.5 -44.5 20 -41 19" fill="#fff" stroke="#000" stroke-width="2.4"/><ellipse cx="0" cy="0" rx="42.5" ry="45.5" fill="#fff"/><path d="M-50 -60 V-21 Q0 -13 50 -21 V-60Z" fill="#C0C0C0" clip-path="url(#hc793)"/><ellipse cx="0" cy="0" rx="42.5" ry="45.5" fill="none" stroke="#000" stroke-width="3"/><g transform="scale(-1 1)"><path d="M-31.8 0.6 C-31.2 1.6 -30.5 2 -29.5 2.5 Q-19.5 6.6 -9.5 2.5 C-8.5 2 -7.8 1.6 -7.2 0.6" fill="none" stroke="#000" stroke-width="2.4" stroke-linecap="round"/><path d="M-25.0 4 V8.2" stroke="#000" stroke-width="2.8"/><path d="M-19.5 4 V9.0" stroke="#000" stroke-width="2.8"/><path d="M-14.0 4 V8.2" stroke="#000" stroke-width="2.8"/></g><g transform="scale(1 1)"><path d="M-31.8 0.6 C-31.2 1.6 -30.5 2 -29.5 2.5 Q-19.5 6.6 -9.5 2.5 C-8.5 2 -7.8 1.6 -7.2 0.6" fill="none" stroke="#000" stroke-width="2.4" stroke-linecap="round"/><path d="M-25.0 4 V8.2" stroke="#000" stroke-width="2.8"/><path d="M-19.5 4 V9.0" stroke="#000" stroke-width="2.8"/><path d="M-14.0 4 V8.2" stroke="#000" stroke-width="2.8"/></g><path d="M-8 17.5 C-12 20 -10.5 26 -5 25 C-3 24.5 -1.5 23.5 0 24 C1.5 24.5 3 26 5.5 25 C10.5 23.5 10 19 8 17.5" fill="none" stroke="#000" stroke-width="2.4" stroke-linecap="round"/><path d="M-15.5 29.8 Q0 37.5 15.5 29.8 Q0 47.5 -15.5 29.8Z" fill="#000" stroke="#000" stroke-width="1.2" stroke-linejoin="round"/><path d="M-7.5 35.6 Q0 37.8 7.5 35.6" fill="none" stroke="#fff" stroke-width="0.8" opacity="0.85"/></g>
<path d="M812.1 540 V531.9 H854.2 V579.7 H811.7 V567" fill="none" stroke="#0000FF" stroke-width="3.3"/>
<circle cx="812.1" cy="539.8" r="4.6" fill="#0000FF"/><circle cx="812.1" cy="566.8" r="4.6" fill="#0000FF"/>
<circle cx="855.4" cy="552.4" r="7.3" fill="#fff" stroke="#0000FF" stroke-width="2.8"/><path d="M851 552.4 H859.8" stroke="#0000FF" stroke-width="3.4"/>
</svg></body></html>
